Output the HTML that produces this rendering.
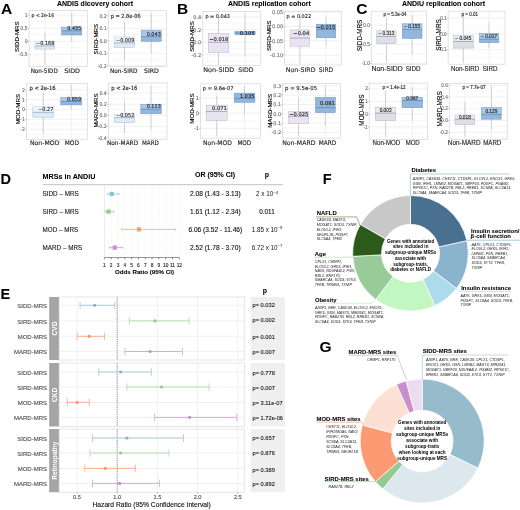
<!DOCTYPE html>
<html><head><meta charset="utf-8"><style>
html,body{margin:0;padding:0;background:#fff;}
svg{display:block;font-family:'Liberation Sans',Arial,sans-serif;}
</style></head><body>
<svg width="520" height="510" viewBox="0 0 520 510">
<rect width="520" height="510" fill="#fff"/>
<text x="1" y="13.6" font-size="15.5" font-weight="bold" stroke="#000" stroke-width="0.06">A</text>
<text x="177.06" y="13.6" font-size="15.5" font-weight="bold" stroke="#000" stroke-width="0.06">B</text>
<text x="356.3" y="13.7" font-size="15.5" font-weight="bold" stroke="#000" stroke-width="0.06">C</text>
<text x="0.43" y="184.1" font-size="14.5" font-weight="bold" stroke="#000" stroke-width="0.06">D</text>
<text x="0.43" y="299.1" font-size="14.5" font-weight="bold" stroke="#000" stroke-width="0.06">E</text>
<text x="322.7" y="183.8" font-size="14.5" font-weight="bold" stroke="#000" stroke-width="0.06">F</text>
<text x="319.6" y="352.3" font-size="15.5" font-weight="bold" stroke="#000" stroke-width="0.06">G</text>
<text x="95" y="5.9" font-size="7" font-weight="bold" text-anchor="middle" stroke="#000" stroke-width="0.06">ANDIS dicovery cohort</text>
<text x="269.4" y="5.9" font-size="7" font-weight="bold" text-anchor="middle" stroke="#000" stroke-width="0.06">ANDIS replication cohort</text>
<text x="443.5" y="5.9" font-size="7" font-weight="bold" text-anchor="middle" stroke="#000" stroke-width="0.06">ANDiU replication cohort</text>
<rect x="29.1" y="10.7" width="58.3" height="55.7" fill="#fff"/>
<line x1="29.1" y1="21.62" x2="87.4" y2="21.62" stroke="#f4f4f4" stroke-width="0.6"/>
<line x1="29.1" y1="34.68" x2="87.4" y2="34.68" stroke="#f4f4f4" stroke-width="0.6"/>
<line x1="29.1" y1="47.73" x2="87.4" y2="47.73" stroke="#f4f4f4" stroke-width="0.6"/>
<line x1="29.1" y1="60.78" x2="87.4" y2="60.78" stroke="#f4f4f4" stroke-width="0.6"/>
<line x1="29.1" y1="15.1" x2="87.4" y2="15.1" stroke="#ebebeb" stroke-width="0.7"/>
<line x1="29.1" y1="28.15" x2="87.4" y2="28.15" stroke="#ebebeb" stroke-width="0.7"/>
<line x1="29.1" y1="41.2" x2="87.4" y2="41.2" stroke="#ebebeb" stroke-width="0.7"/>
<line x1="29.1" y1="54.25" x2="87.4" y2="54.25" stroke="#ebebeb" stroke-width="0.7"/>
<line x1="44.9" y1="10.7" x2="44.9" y2="66.4" stroke="#ebebeb" stroke-width="0.7"/>
<line x1="71.7" y1="10.7" x2="71.7" y2="66.4" stroke="#ebebeb" stroke-width="0.7"/>
<line x1="27.5" y1="15.1" x2="29.1" y2="15.1" stroke="#999" stroke-width="0.5"/>
<text x="27.6" y="16.97" font-size="5.2" font-family="'DejaVu Sans Condensed', 'DejaVu Sans', sans-serif" text-anchor="end" fill="#6e6e6e" stroke="#6e6e6e" stroke-width="0.12">1</text>
<line x1="27.5" y1="28.15" x2="29.1" y2="28.15" stroke="#999" stroke-width="0.5"/>
<text x="27.6" y="30.02" font-size="5.2" font-family="'DejaVu Sans Condensed', 'DejaVu Sans', sans-serif" text-anchor="end" fill="#6e6e6e" stroke="#6e6e6e" stroke-width="0.12">0.5</text>
<line x1="27.5" y1="41.2" x2="29.1" y2="41.2" stroke="#999" stroke-width="0.5"/>
<text x="27.6" y="43.07" font-size="5.2" font-family="'DejaVu Sans Condensed', 'DejaVu Sans', sans-serif" text-anchor="end" fill="#6e6e6e" stroke="#6e6e6e" stroke-width="0.12">0</text>
<line x1="27.5" y1="54.25" x2="29.1" y2="54.25" stroke="#999" stroke-width="0.5"/>
<text x="27.6" y="56.12" font-size="5.2" font-family="'DejaVu Sans Condensed', 'DejaVu Sans', sans-serif" text-anchor="end" fill="#6e6e6e" stroke="#6e6e6e" stroke-width="0.12">-0.5</text>
<line x1="44.9" y1="33" x2="44.9" y2="64.6" stroke="#b4b4b4" stroke-width="0.55"/>
<rect x="35" y="41.3" width="19.8" height="7.8" fill="#deebf7" stroke="#a9bfd3" stroke-width="0.5"/>
<rect x="35.3" y="41.6" width="19.2" height="4.1" fill="#eef5fb"/>
<line x1="35" y1="46" x2="54.8" y2="46" stroke="#8aa2b8" stroke-width="0.7"/>
<text x="54.4" y="45" font-size="5.5" font-family="'DejaVu Sans Condensed', 'DejaVu Sans', sans-serif" text-anchor="end" fill="#222" stroke="#222" stroke-width="0.12">−0.168</text>
<line x1="71.7" y1="12.8" x2="71.7" y2="42" stroke="#b4b4b4" stroke-width="0.55"/>
<rect x="61.7" y="27.1" width="20.1" height="7.9" fill="#92b6dc" stroke="#6f95bf" stroke-width="0.5"/>
<rect x="62" y="27.4" width="19.5" height="3.1" fill="#a9c7e7"/>
<line x1="61.7" y1="30.8" x2="81.8" y2="30.8" stroke="#5f86b0" stroke-width="0.7"/>
<text x="81.4" y="29.8" font-size="5.5" font-family="'DejaVu Sans Condensed', 'DejaVu Sans', sans-serif" text-anchor="end" fill="#222" stroke="#222" stroke-width="0.12">0.435</text>
<rect x="29.1" y="10.7" width="58.3" height="55.7" fill="none" stroke="#cfcfcf" stroke-width="0.6"/>
<text x="31.6" y="16.5" font-size="5" font-family="'DejaVu Sans Condensed', 'DejaVu Sans', sans-serif" text-anchor="start" fill="#222" stroke="#222" stroke-width="0.12">p &lt; 2e-16</text>
<text x="44.2" y="72.8" font-size="6.2" font-family="'DejaVu Sans Condensed', 'DejaVu Sans', sans-serif" text-anchor="middle" fill="#222" stroke="#222" stroke-width="0.12" textLength="27.1" lengthAdjust="spacingAndGlyphs">Non-SIDD</text>
<text x="72.1" y="72.8" font-size="6.2" font-family="'DejaVu Sans Condensed', 'DejaVu Sans', sans-serif" text-anchor="middle" fill="#222" stroke="#222" stroke-width="0.12" textLength="15.7" lengthAdjust="spacingAndGlyphs">SIDD</text>
<text x="17" y="36.6" font-size="6.2" text-anchor="middle" stroke="#000" stroke-width="0.12" transform="rotate(-90 17 36.6)" dominant-baseline="central">SIDD-MRS</text>
<rect x="108.3" y="10.8" width="58.3" height="55.6" fill="#fff"/>
<line x1="108.3" y1="21.97" x2="166.6" y2="21.97" stroke="#f4f4f4" stroke-width="0.6"/>
<line x1="108.3" y1="34.52" x2="166.6" y2="34.52" stroke="#f4f4f4" stroke-width="0.6"/>
<line x1="108.3" y1="47.07" x2="166.6" y2="47.07" stroke="#f4f4f4" stroke-width="0.6"/>
<line x1="108.3" y1="59.62" x2="166.6" y2="59.62" stroke="#f4f4f4" stroke-width="0.6"/>
<line x1="108.3" y1="15.7" x2="166.6" y2="15.7" stroke="#ebebeb" stroke-width="0.7"/>
<line x1="108.3" y1="28.25" x2="166.6" y2="28.25" stroke="#ebebeb" stroke-width="0.7"/>
<line x1="108.3" y1="40.8" x2="166.6" y2="40.8" stroke="#ebebeb" stroke-width="0.7"/>
<line x1="108.3" y1="53.35" x2="166.6" y2="53.35" stroke="#ebebeb" stroke-width="0.7"/>
<line x1="108.3" y1="65.9" x2="166.6" y2="65.9" stroke="#ebebeb" stroke-width="0.7"/>
<line x1="124.5" y1="10.8" x2="124.5" y2="66.4" stroke="#ebebeb" stroke-width="0.7"/>
<line x1="151.2" y1="10.8" x2="151.2" y2="66.4" stroke="#ebebeb" stroke-width="0.7"/>
<line x1="106.7" y1="15.7" x2="108.3" y2="15.7" stroke="#999" stroke-width="0.5"/>
<text x="106.8" y="17.57" font-size="5.2" font-family="'DejaVu Sans Condensed', 'DejaVu Sans', sans-serif" text-anchor="end" fill="#6e6e6e" stroke="#6e6e6e" stroke-width="0.12">0.2</text>
<line x1="106.7" y1="28.25" x2="108.3" y2="28.25" stroke="#999" stroke-width="0.5"/>
<text x="106.8" y="30.12" font-size="5.2" font-family="'DejaVu Sans Condensed', 'DejaVu Sans', sans-serif" text-anchor="end" fill="#6e6e6e" stroke="#6e6e6e" stroke-width="0.12">0.1</text>
<line x1="106.7" y1="40.8" x2="108.3" y2="40.8" stroke="#999" stroke-width="0.5"/>
<text x="106.8" y="42.67" font-size="5.2" font-family="'DejaVu Sans Condensed', 'DejaVu Sans', sans-serif" text-anchor="end" fill="#6e6e6e" stroke="#6e6e6e" stroke-width="0.12">0.0</text>
<line x1="106.7" y1="53.35" x2="108.3" y2="53.35" stroke="#999" stroke-width="0.5"/>
<text x="106.8" y="55.22" font-size="5.2" font-family="'DejaVu Sans Condensed', 'DejaVu Sans', sans-serif" text-anchor="end" fill="#6e6e6e" stroke="#6e6e6e" stroke-width="0.12">-0.1</text>
<line x1="106.7" y1="65.9" x2="108.3" y2="65.9" stroke="#999" stroke-width="0.5"/>
<text x="106.8" y="67.77" font-size="5.2" font-family="'DejaVu Sans Condensed', 'DejaVu Sans', sans-serif" text-anchor="end" fill="#6e6e6e" stroke="#6e6e6e" stroke-width="0.12">-0.2</text>
<line x1="124.5" y1="22" x2="124.5" y2="60.8" stroke="#b4b4b4" stroke-width="0.55"/>
<rect x="114.2" y="37" width="20.5" height="10.4" fill="#deebf7" stroke="#a9bfd3" stroke-width="0.5"/>
<rect x="114.5" y="37.3" width="19.9" height="5.3" fill="#eef5fb"/>
<line x1="114.2" y1="42.9" x2="134.7" y2="42.9" stroke="#8aa2b8" stroke-width="0.7"/>
<text x="134.3" y="41.9" font-size="5.5" font-family="'DejaVu Sans Condensed', 'DejaVu Sans', sans-serif" text-anchor="end" fill="#222" stroke="#222" stroke-width="0.12">−0.009</text>
<line x1="151.2" y1="13" x2="151.2" y2="53.5" stroke="#b4b4b4" stroke-width="0.55"/>
<rect x="141.2" y="30.1" width="20" height="11.3" fill="#92b6dc" stroke="#6f95bf" stroke-width="0.5"/>
<rect x="141.5" y="30.4" width="19.4" height="5.9" fill="#a9c7e7"/>
<line x1="141.2" y1="36.6" x2="161.2" y2="36.6" stroke="#5f86b0" stroke-width="0.7"/>
<text x="160.8" y="35.6" font-size="5.5" font-family="'DejaVu Sans Condensed', 'DejaVu Sans', sans-serif" text-anchor="end" fill="#222" stroke="#222" stroke-width="0.12">0.043</text>
<rect x="108.3" y="10.8" width="58.3" height="55.6" fill="none" stroke="#cfcfcf" stroke-width="0.6"/>
<text x="110.7" y="17.7" font-size="5.6" font-family="'DejaVu Sans Condensed', 'DejaVu Sans', sans-serif" text-anchor="start" fill="#222" stroke="#222" stroke-width="0.12">p = 2.8e-06</text>
<text x="123.7" y="72.8" font-size="6.2" font-family="'DejaVu Sans Condensed', 'DejaVu Sans', sans-serif" text-anchor="middle" fill="#222" stroke="#222" stroke-width="0.12" textLength="27.5" lengthAdjust="spacingAndGlyphs">Non-SIRD</text>
<text x="151.45" y="72.8" font-size="6.2" font-family="'DejaVu Sans Condensed', 'DejaVu Sans', sans-serif" text-anchor="middle" fill="#222" stroke="#222" stroke-width="0.12" textLength="15" lengthAdjust="spacingAndGlyphs">SIRD</text>
<text x="95.7" y="39.1" font-size="6.2" text-anchor="middle" stroke="#000" stroke-width="0.12" transform="rotate(-90 95.7 39.1)" dominant-baseline="central">SIRD-MRS</text>
<rect x="26.5" y="83.4" width="60.9" height="56" fill="#fff"/>
<line x1="26.5" y1="94.75" x2="87.4" y2="94.75" stroke="#f4f4f4" stroke-width="0.6"/>
<line x1="26.5" y1="104.65" x2="87.4" y2="104.65" stroke="#f4f4f4" stroke-width="0.6"/>
<line x1="26.5" y1="114.55" x2="87.4" y2="114.55" stroke="#f4f4f4" stroke-width="0.6"/>
<line x1="26.5" y1="124.45" x2="87.4" y2="124.45" stroke="#f4f4f4" stroke-width="0.6"/>
<line x1="26.5" y1="134.35" x2="87.4" y2="134.35" stroke="#f4f4f4" stroke-width="0.6"/>
<line x1="26.5" y1="89.8" x2="87.4" y2="89.8" stroke="#ebebeb" stroke-width="0.7"/>
<line x1="26.5" y1="99.7" x2="87.4" y2="99.7" stroke="#ebebeb" stroke-width="0.7"/>
<line x1="26.5" y1="109.6" x2="87.4" y2="109.6" stroke="#ebebeb" stroke-width="0.7"/>
<line x1="26.5" y1="119.5" x2="87.4" y2="119.5" stroke="#ebebeb" stroke-width="0.7"/>
<line x1="26.5" y1="129.4" x2="87.4" y2="129.4" stroke="#ebebeb" stroke-width="0.7"/>
<line x1="43.3" y1="83.4" x2="43.3" y2="139.4" stroke="#ebebeb" stroke-width="0.7"/>
<line x1="71.2" y1="83.4" x2="71.2" y2="139.4" stroke="#ebebeb" stroke-width="0.7"/>
<line x1="24.9" y1="89.8" x2="26.5" y2="89.8" stroke="#999" stroke-width="0.5"/>
<text x="25" y="91.67" font-size="5.2" font-family="'DejaVu Sans Condensed', 'DejaVu Sans', sans-serif" text-anchor="end" fill="#6e6e6e" stroke="#6e6e6e" stroke-width="0.12">2</text>
<line x1="24.9" y1="99.7" x2="26.5" y2="99.7" stroke="#999" stroke-width="0.5"/>
<text x="25" y="101.57" font-size="5.2" font-family="'DejaVu Sans Condensed', 'DejaVu Sans', sans-serif" text-anchor="end" fill="#6e6e6e" stroke="#6e6e6e" stroke-width="0.12">1</text>
<line x1="24.9" y1="109.6" x2="26.5" y2="109.6" stroke="#999" stroke-width="0.5"/>
<text x="25" y="111.47" font-size="5.2" font-family="'DejaVu Sans Condensed', 'DejaVu Sans', sans-serif" text-anchor="end" fill="#6e6e6e" stroke="#6e6e6e" stroke-width="0.12">0</text>
<line x1="24.9" y1="119.5" x2="26.5" y2="119.5" stroke="#999" stroke-width="0.5"/>
<text x="25" y="121.37" font-size="5.2" font-family="'DejaVu Sans Condensed', 'DejaVu Sans', sans-serif" text-anchor="end" fill="#6e6e6e" stroke="#6e6e6e" stroke-width="0.12">-1</text>
<line x1="24.9" y1="129.4" x2="26.5" y2="129.4" stroke="#999" stroke-width="0.5"/>
<text x="25" y="131.27" font-size="5.2" font-family="'DejaVu Sans Condensed', 'DejaVu Sans', sans-serif" text-anchor="end" fill="#6e6e6e" stroke="#6e6e6e" stroke-width="0.12">-2</text>
<line x1="43.3" y1="93.5" x2="43.3" y2="133.8" stroke="#b4b4b4" stroke-width="0.55"/>
<rect x="32.8" y="106.9" width="21" height="10.5" fill="#deebf7" stroke="#a9bfd3" stroke-width="0.5"/>
<rect x="33.1" y="107.2" width="20.4" height="4.8" fill="#eef5fb"/>
<line x1="32.8" y1="112.3" x2="53.8" y2="112.3" stroke="#8aa2b8" stroke-width="0.7"/>
<text x="53.4" y="111.3" font-size="5.5" font-family="'DejaVu Sans Condensed', 'DejaVu Sans', sans-serif" text-anchor="end" fill="#222" stroke="#222" stroke-width="0.12">−0.27</text>
<line x1="71.2" y1="84.6" x2="71.2" y2="109.2" stroke="#b4b4b4" stroke-width="0.55"/>
<rect x="60.8" y="97.7" width="20.7" height="7.2" fill="#92b6dc" stroke="#6f95bf" stroke-width="0.5"/>
<rect x="61.1" y="98" width="20.1" height="3.2" fill="#a9c7e7"/>
<line x1="60.8" y1="101.5" x2="81.5" y2="101.5" stroke="#5f86b0" stroke-width="0.7"/>
<text x="81.1" y="100.5" font-size="5.5" font-family="'DejaVu Sans Condensed', 'DejaVu Sans', sans-serif" text-anchor="end" fill="#222" stroke="#222" stroke-width="0.12">0.859</text>
<rect x="26.5" y="83.4" width="60.9" height="56" fill="none" stroke="#cfcfcf" stroke-width="0.6"/>
<text x="29.4" y="89.7" font-size="5.85" font-family="'DejaVu Sans Condensed', 'DejaVu Sans', sans-serif" text-anchor="start" fill="#222" stroke="#222" stroke-width="0.12">p &lt; 2e-16</text>
<text x="44.7" y="145.3" font-size="6.2" font-family="'DejaVu Sans Condensed', 'DejaVu Sans', sans-serif" text-anchor="middle" fill="#222" stroke="#222" stroke-width="0.12" textLength="29.5" lengthAdjust="spacingAndGlyphs">Non-MOD</text>
<text x="71.8" y="145.3" font-size="6.2" font-family="'DejaVu Sans Condensed', 'DejaVu Sans', sans-serif" text-anchor="middle" fill="#222" stroke="#222" stroke-width="0.12" textLength="14.3" lengthAdjust="spacingAndGlyphs">MOD</text>
<text x="18" y="109.1" font-size="6.2" text-anchor="middle" stroke="#000" stroke-width="0.12" transform="rotate(-90 18 109.1)" dominant-baseline="central">MOD-MRS</text>
<rect x="108.3" y="83" width="58.7" height="56.4" fill="#fff"/>
<line x1="108.3" y1="98.68" x2="167" y2="98.68" stroke="#f4f4f4" stroke-width="0.6"/>
<line x1="108.3" y1="109.83" x2="167" y2="109.83" stroke="#f4f4f4" stroke-width="0.6"/>
<line x1="108.3" y1="120.98" x2="167" y2="120.98" stroke="#f4f4f4" stroke-width="0.6"/>
<line x1="108.3" y1="132.12" x2="167" y2="132.12" stroke="#f4f4f4" stroke-width="0.6"/>
<line x1="108.3" y1="87.53" x2="167" y2="87.53" stroke="#f4f4f4" stroke-width="0.6"/>
<line x1="108.3" y1="93.1" x2="167" y2="93.1" stroke="#ebebeb" stroke-width="0.7"/>
<line x1="108.3" y1="104.25" x2="167" y2="104.25" stroke="#ebebeb" stroke-width="0.7"/>
<line x1="108.3" y1="115.4" x2="167" y2="115.4" stroke="#ebebeb" stroke-width="0.7"/>
<line x1="108.3" y1="126.55" x2="167" y2="126.55" stroke="#ebebeb" stroke-width="0.7"/>
<line x1="108.3" y1="137.7" x2="167" y2="137.7" stroke="#ebebeb" stroke-width="0.7"/>
<line x1="124.5" y1="83" x2="124.5" y2="139.4" stroke="#ebebeb" stroke-width="0.7"/>
<line x1="151" y1="83" x2="151" y2="139.4" stroke="#ebebeb" stroke-width="0.7"/>
<line x1="106.7" y1="93.1" x2="108.3" y2="93.1" stroke="#999" stroke-width="0.5"/>
<text x="106.8" y="94.97" font-size="5.2" font-family="'DejaVu Sans Condensed', 'DejaVu Sans', sans-serif" text-anchor="end" fill="#6e6e6e" stroke="#6e6e6e" stroke-width="0.12">0.4</text>
<line x1="106.7" y1="104.25" x2="108.3" y2="104.25" stroke="#999" stroke-width="0.5"/>
<text x="106.8" y="106.12" font-size="5.2" font-family="'DejaVu Sans Condensed', 'DejaVu Sans', sans-serif" text-anchor="end" fill="#6e6e6e" stroke="#6e6e6e" stroke-width="0.12">0.2</text>
<line x1="106.7" y1="115.4" x2="108.3" y2="115.4" stroke="#999" stroke-width="0.5"/>
<text x="106.8" y="117.27" font-size="5.2" font-family="'DejaVu Sans Condensed', 'DejaVu Sans', sans-serif" text-anchor="end" fill="#6e6e6e" stroke="#6e6e6e" stroke-width="0.12">0.0</text>
<line x1="106.7" y1="126.55" x2="108.3" y2="126.55" stroke="#999" stroke-width="0.5"/>
<text x="106.8" y="128.42" font-size="5.2" font-family="'DejaVu Sans Condensed', 'DejaVu Sans', sans-serif" text-anchor="end" fill="#6e6e6e" stroke="#6e6e6e" stroke-width="0.12">-0.2</text>
<line x1="106.7" y1="137.7" x2="108.3" y2="137.7" stroke="#999" stroke-width="0.5"/>
<text x="106.8" y="139.57" font-size="5.2" font-family="'DejaVu Sans Condensed', 'DejaVu Sans', sans-serif" text-anchor="end" fill="#6e6e6e" stroke="#6e6e6e" stroke-width="0.12">-0.4</text>
<line x1="124.5" y1="101.5" x2="124.5" y2="133.1" stroke="#b4b4b4" stroke-width="0.55"/>
<rect x="114.2" y="114.2" width="20.5" height="8.4" fill="#deebf7" stroke="#a9bfd3" stroke-width="0.5"/>
<rect x="114.5" y="114.5" width="19.9" height="2.9" fill="#eef5fb"/>
<line x1="114.2" y1="117.7" x2="134.7" y2="117.7" stroke="#8aa2b8" stroke-width="0.7"/>
<text x="134.3" y="116.7" font-size="5.5" font-family="'DejaVu Sans Condensed', 'DejaVu Sans', sans-serif" text-anchor="end" fill="#222" stroke="#222" stroke-width="0.12">−0.052</text>
<line x1="151" y1="85.4" x2="151" y2="130" stroke="#b4b4b4" stroke-width="0.55"/>
<rect x="140.8" y="104.6" width="20.4" height="9.2" fill="#92b6dc" stroke="#6f95bf" stroke-width="0.5"/>
<rect x="141.1" y="104.9" width="19.8" height="4" fill="#a9c7e7"/>
<line x1="140.8" y1="109.2" x2="161.2" y2="109.2" stroke="#5f86b0" stroke-width="0.7"/>
<text x="160.8" y="108.2" font-size="5.5" font-family="'DejaVu Sans Condensed', 'DejaVu Sans', sans-serif" text-anchor="end" fill="#222" stroke="#222" stroke-width="0.12">0.113</text>
<rect x="108.3" y="83" width="58.7" height="56.4" fill="none" stroke="#cfcfcf" stroke-width="0.6"/>
<text x="111.2" y="89.7" font-size="5.85" font-family="'DejaVu Sans Condensed', 'DejaVu Sans', sans-serif" text-anchor="start" fill="#222" stroke="#222" stroke-width="0.12">p &lt; 2e-16</text>
<text x="122.55" y="145.3" font-size="6.2" font-family="'DejaVu Sans Condensed', 'DejaVu Sans', sans-serif" text-anchor="middle" fill="#222" stroke="#222" stroke-width="0.12" textLength="31.2" lengthAdjust="spacingAndGlyphs">Non-MARD</text>
<text x="150.45" y="145.3" font-size="6.2" font-family="'DejaVu Sans Condensed', 'DejaVu Sans', sans-serif" text-anchor="middle" fill="#222" stroke="#222" stroke-width="0.12" textLength="17" lengthAdjust="spacingAndGlyphs">MARD</text>
<text x="95.6" y="110.5" font-size="6.2" text-anchor="middle" stroke="#000" stroke-width="0.12" transform="rotate(-90 95.6 110.5)" dominant-baseline="central">MARD-MRS</text>
<rect x="202.8" y="11.5" width="58" height="53.9" fill="#fff"/>
<line x1="202.8" y1="23.4" x2="260.8" y2="23.4" stroke="#f4f4f4" stroke-width="0.6"/>
<line x1="202.8" y1="36" x2="260.8" y2="36" stroke="#f4f4f4" stroke-width="0.6"/>
<line x1="202.8" y1="48.6" x2="260.8" y2="48.6" stroke="#f4f4f4" stroke-width="0.6"/>
<line x1="202.8" y1="61.2" x2="260.8" y2="61.2" stroke="#f4f4f4" stroke-width="0.6"/>
<line x1="202.8" y1="17.1" x2="260.8" y2="17.1" stroke="#ebebeb" stroke-width="0.7"/>
<line x1="202.8" y1="29.7" x2="260.8" y2="29.7" stroke="#ebebeb" stroke-width="0.7"/>
<line x1="202.8" y1="42.3" x2="260.8" y2="42.3" stroke="#ebebeb" stroke-width="0.7"/>
<line x1="202.8" y1="54.9" x2="260.8" y2="54.9" stroke="#ebebeb" stroke-width="0.7"/>
<line x1="218.5" y1="11.5" x2="218.5" y2="65.4" stroke="#ebebeb" stroke-width="0.7"/>
<line x1="245" y1="11.5" x2="245" y2="65.4" stroke="#ebebeb" stroke-width="0.7"/>
<line x1="201.2" y1="17.1" x2="202.8" y2="17.1" stroke="#999" stroke-width="0.5"/>
<text x="201.3" y="18.9" font-size="5" font-family="'DejaVu Sans', Verdana, sans-serif" text-anchor="end" fill="#6e6e6e" stroke="#6e6e6e" stroke-width="0.12">0.4</text>
<line x1="201.2" y1="29.7" x2="202.8" y2="29.7" stroke="#999" stroke-width="0.5"/>
<text x="201.3" y="31.5" font-size="5" font-family="'DejaVu Sans', Verdana, sans-serif" text-anchor="end" fill="#6e6e6e" stroke="#6e6e6e" stroke-width="0.12">0.2</text>
<line x1="201.2" y1="42.3" x2="202.8" y2="42.3" stroke="#999" stroke-width="0.5"/>
<text x="201.3" y="44.1" font-size="5" font-family="'DejaVu Sans', Verdana, sans-serif" text-anchor="end" fill="#6e6e6e" stroke="#6e6e6e" stroke-width="0.12">0.0</text>
<line x1="201.2" y1="54.9" x2="202.8" y2="54.9" stroke="#999" stroke-width="0.5"/>
<text x="201.3" y="56.7" font-size="5" font-family="'DejaVu Sans', Verdana, sans-serif" text-anchor="end" fill="#6e6e6e" stroke="#6e6e6e" stroke-width="0.12">-0.2</text>
<line x1="218.5" y1="17.7" x2="218.5" y2="65.4" stroke="#b4b4b4" stroke-width="0.55"/>
<rect x="208.3" y="33.5" width="20.5" height="19" fill="#e9e4f2" stroke="#bab5c6" stroke-width="0.5"/>
<line x1="208.3" y1="42.3" x2="228.8" y2="42.3" stroke="#9a94a8" stroke-width="0.7"/>
<text x="228.4" y="41.3" font-size="5.2" font-family="'DejaVu Sans', Verdana, sans-serif" text-anchor="end" fill="#222" stroke="#222" stroke-width="0.12">−0.018</text>
<line x1="245" y1="13" x2="245" y2="56" stroke="#b4b4b4" stroke-width="0.55"/>
<rect x="234.9" y="31.5" width="20.2" height="3.1" fill="#92b6dc" stroke="#6f95bf" stroke-width="0.5"/>
<line x1="234.9" y1="33" x2="255.1" y2="33" stroke="#5f86b0" stroke-width="0.7"/>
<text x="254.7" y="34.6" font-size="5.2" font-family="'DejaVu Sans', Verdana, sans-serif" text-anchor="end" fill="#222" stroke="#222" stroke-width="0.12">0.105</text>
<rect x="202.8" y="11.5" width="58" height="53.9" fill="none" stroke="#cfcfcf" stroke-width="0.6"/>
<text x="205.4" y="18" font-size="4.95" font-family="'DejaVu Sans', Verdana, sans-serif" text-anchor="start" fill="#222" stroke="#222" stroke-width="0.12">p = 0.043</text>
<text x="218.8" y="72" font-size="6.3" font-family="'DejaVu Sans', Verdana, sans-serif" text-anchor="middle" fill="#222" stroke="#222" stroke-width="0.12" textLength="31.1" lengthAdjust="spacingAndGlyphs">Non-SIDD</text>
<text x="245.9" y="72" font-size="6.3" font-family="'DejaVu Sans', Verdana, sans-serif" text-anchor="middle" fill="#222" stroke="#222" stroke-width="0.12" textLength="15.3" lengthAdjust="spacingAndGlyphs">SIDD</text>
<text x="191.1" y="36.5" font-size="6.2" text-anchor="middle" stroke="#000" stroke-width="0.12" transform="rotate(-90 191.1 36.5)" dominant-baseline="central">SIDD-MRS</text>
<rect x="284.7" y="11.2" width="56.5" height="53.8" fill="#fff"/>
<line x1="284.7" y1="19.3" x2="341.2" y2="19.3" stroke="#f4f4f4" stroke-width="0.6"/>
<line x1="284.7" y1="33.7" x2="341.2" y2="33.7" stroke="#f4f4f4" stroke-width="0.6"/>
<line x1="284.7" y1="48.1" x2="341.2" y2="48.1" stroke="#f4f4f4" stroke-width="0.6"/>
<line x1="284.7" y1="62.5" x2="341.2" y2="62.5" stroke="#f4f4f4" stroke-width="0.6"/>
<line x1="284.7" y1="12.1" x2="341.2" y2="12.1" stroke="#ebebeb" stroke-width="0.7"/>
<line x1="284.7" y1="26.5" x2="341.2" y2="26.5" stroke="#ebebeb" stroke-width="0.7"/>
<line x1="284.7" y1="40.9" x2="341.2" y2="40.9" stroke="#ebebeb" stroke-width="0.7"/>
<line x1="284.7" y1="55.3" x2="341.2" y2="55.3" stroke="#ebebeb" stroke-width="0.7"/>
<line x1="299.8" y1="11.2" x2="299.8" y2="65" stroke="#ebebeb" stroke-width="0.7"/>
<line x1="326" y1="11.2" x2="326" y2="65" stroke="#ebebeb" stroke-width="0.7"/>
<line x1="283.1" y1="12.1" x2="284.7" y2="12.1" stroke="#999" stroke-width="0.5"/>
<text x="283.2" y="13.9" font-size="5" font-family="'DejaVu Sans', Verdana, sans-serif" text-anchor="end" fill="#6e6e6e" stroke="#6e6e6e" stroke-width="0.12">0.05</text>
<line x1="283.1" y1="26.5" x2="284.7" y2="26.5" stroke="#999" stroke-width="0.5"/>
<text x="283.2" y="28.3" font-size="5" font-family="'DejaVu Sans', Verdana, sans-serif" text-anchor="end" fill="#6e6e6e" stroke="#6e6e6e" stroke-width="0.12">0.00</text>
<line x1="283.1" y1="40.9" x2="284.7" y2="40.9" stroke="#999" stroke-width="0.5"/>
<text x="283.2" y="42.7" font-size="5" font-family="'DejaVu Sans', Verdana, sans-serif" text-anchor="end" fill="#6e6e6e" stroke="#6e6e6e" stroke-width="0.12">-0.05</text>
<line x1="283.1" y1="55.3" x2="284.7" y2="55.3" stroke="#999" stroke-width="0.5"/>
<text x="283.2" y="57.1" font-size="5" font-family="'DejaVu Sans', Verdana, sans-serif" text-anchor="end" fill="#6e6e6e" stroke="#6e6e6e" stroke-width="0.12">-0.10</text>
<line x1="299.8" y1="15.8" x2="299.8" y2="63.5" stroke="#b4b4b4" stroke-width="0.55"/>
<rect x="290.1" y="29.9" width="19.5" height="16.3" fill="#e9e4f2" stroke="#bab5c6" stroke-width="0.5"/>
<line x1="290.1" y1="38.1" x2="309.6" y2="38.1" stroke="#9a94a8" stroke-width="0.7"/>
<text x="309.2" y="35.4" font-size="5.2" font-family="'DejaVu Sans', Verdana, sans-serif" text-anchor="end" fill="#222" stroke="#222" stroke-width="0.12">−0.04</text>
<line x1="326" y1="16.5" x2="326" y2="45.8" stroke="#b4b4b4" stroke-width="0.55"/>
<rect x="316.2" y="24.2" width="19.6" height="13.6" fill="#92b6dc" stroke="#6f95bf" stroke-width="0.5"/>
<line x1="316.2" y1="29.6" x2="335.8" y2="29.6" stroke="#5f86b0" stroke-width="0.7"/>
<text x="335.4" y="28.9" font-size="5.2" font-family="'DejaVu Sans', Verdana, sans-serif" text-anchor="end" fill="#222" stroke="#222" stroke-width="0.12">−0.015</text>
<rect x="284.7" y="11.2" width="56.5" height="53.8" fill="none" stroke="#cfcfcf" stroke-width="0.6"/>
<text x="286.5" y="17.6" font-size="4.95" font-family="'DejaVu Sans', Verdana, sans-serif" text-anchor="start" fill="#222" stroke="#222" stroke-width="0.12">p = 0.022</text>
<text x="300.65" y="72.4" font-size="6.3" font-family="'DejaVu Sans', Verdana, sans-serif" text-anchor="middle" fill="#222" stroke="#222" stroke-width="0.12" textLength="29.8" lengthAdjust="spacingAndGlyphs">Non-SIRD</text>
<text x="326" y="72.4" font-size="6.3" font-family="'DejaVu Sans', Verdana, sans-serif" text-anchor="middle" fill="#222" stroke="#222" stroke-width="0.12" textLength="14.5" lengthAdjust="spacingAndGlyphs">SIRD</text>
<text x="268.1" y="35.8" font-size="6.2" text-anchor="middle" stroke="#000" stroke-width="0.12" transform="rotate(-90 268.1 35.8)" dominant-baseline="central">SIRD-MRS</text>
<rect x="200.5" y="83.8" width="60" height="54.4" fill="#fff"/>
<line x1="200.5" y1="90.3" x2="260.5" y2="90.3" stroke="#f4f4f4" stroke-width="0.6"/>
<line x1="200.5" y1="105.5" x2="260.5" y2="105.5" stroke="#f4f4f4" stroke-width="0.6"/>
<line x1="200.5" y1="120.7" x2="260.5" y2="120.7" stroke="#f4f4f4" stroke-width="0.6"/>
<line x1="200.5" y1="135.9" x2="260.5" y2="135.9" stroke="#f4f4f4" stroke-width="0.6"/>
<line x1="200.5" y1="97.9" x2="260.5" y2="97.9" stroke="#ebebeb" stroke-width="0.7"/>
<line x1="200.5" y1="113.1" x2="260.5" y2="113.1" stroke="#ebebeb" stroke-width="0.7"/>
<line x1="200.5" y1="128.3" x2="260.5" y2="128.3" stroke="#ebebeb" stroke-width="0.7"/>
<line x1="216.7" y1="83.8" x2="216.7" y2="138.2" stroke="#ebebeb" stroke-width="0.7"/>
<line x1="244.5" y1="83.8" x2="244.5" y2="138.2" stroke="#ebebeb" stroke-width="0.7"/>
<line x1="198.9" y1="97.9" x2="200.5" y2="97.9" stroke="#999" stroke-width="0.5"/>
<text x="199" y="99.7" font-size="5" font-family="'DejaVu Sans', Verdana, sans-serif" text-anchor="end" fill="#6e6e6e" stroke="#6e6e6e" stroke-width="0.12">1</text>
<line x1="198.9" y1="113.1" x2="200.5" y2="113.1" stroke="#999" stroke-width="0.5"/>
<text x="199" y="114.9" font-size="5" font-family="'DejaVu Sans', Verdana, sans-serif" text-anchor="end" fill="#6e6e6e" stroke="#6e6e6e" stroke-width="0.12">0</text>
<line x1="198.9" y1="128.3" x2="200.5" y2="128.3" stroke="#999" stroke-width="0.5"/>
<text x="199" y="130.1" font-size="5" font-family="'DejaVu Sans', Verdana, sans-serif" text-anchor="end" fill="#6e6e6e" stroke="#6e6e6e" stroke-width="0.12">-1</text>
<line x1="216.7" y1="96.2" x2="216.7" y2="135.7" stroke="#b4b4b4" stroke-width="0.55"/>
<rect x="206.2" y="105.1" width="21" height="15.4" fill="#e9e4f2" stroke="#bab5c6" stroke-width="0.5"/>
<line x1="206.2" y1="111.5" x2="227.2" y2="111.5" stroke="#9a94a8" stroke-width="0.7"/>
<text x="226.8" y="110.1" font-size="5.2" font-family="'DejaVu Sans', Verdana, sans-serif" text-anchor="end" fill="#222" stroke="#222" stroke-width="0.12">0.071</text>
<line x1="244.5" y1="86.2" x2="244.5" y2="115.4" stroke="#b4b4b4" stroke-width="0.55"/>
<rect x="234.2" y="93.1" width="20.7" height="9.2" fill="#92b6dc" stroke="#6f95bf" stroke-width="0.5"/>
<line x1="234.2" y1="98.5" x2="254.9" y2="98.5" stroke="#5f86b0" stroke-width="0.7"/>
<text x="254.5" y="98.1" font-size="5.2" font-family="'DejaVu Sans', Verdana, sans-serif" text-anchor="end" fill="#222" stroke="#222" stroke-width="0.12">1.035</text>
<rect x="200.5" y="83.8" width="60" height="54.4" fill="none" stroke="#cfcfcf" stroke-width="0.6"/>
<text x="202.8" y="90.3" font-size="5.2" font-family="'DejaVu Sans', Verdana, sans-serif" text-anchor="start" fill="#222" stroke="#222" stroke-width="0.12">p = 9.6e-07</text>
<text x="217.55" y="145.4" font-size="6.3" font-family="'DejaVu Sans', Verdana, sans-serif" text-anchor="middle" fill="#222" stroke="#222" stroke-width="0.12" textLength="29" lengthAdjust="spacingAndGlyphs">Non-MOD</text>
<text x="244.35" y="145.4" font-size="6.3" font-family="'DejaVu Sans', Verdana, sans-serif" text-anchor="middle" fill="#222" stroke="#222" stroke-width="0.12" textLength="13.8" lengthAdjust="spacingAndGlyphs">MOD</text>
<text x="191.9" y="108.5" font-size="6.2" text-anchor="middle" stroke="#000" stroke-width="0.12" transform="rotate(-90 191.9 108.5)" dominant-baseline="central">MOD-MRS</text>
<rect x="282.7" y="83.4" width="57.7" height="54.8" fill="#fff"/>
<line x1="282.7" y1="90.55" x2="340.4" y2="90.55" stroke="#f4f4f4" stroke-width="0.6"/>
<line x1="282.7" y1="99.85" x2="340.4" y2="99.85" stroke="#f4f4f4" stroke-width="0.6"/>
<line x1="282.7" y1="109.15" x2="340.4" y2="109.15" stroke="#f4f4f4" stroke-width="0.6"/>
<line x1="282.7" y1="118.45" x2="340.4" y2="118.45" stroke="#f4f4f4" stroke-width="0.6"/>
<line x1="282.7" y1="127.75" x2="340.4" y2="127.75" stroke="#f4f4f4" stroke-width="0.6"/>
<line x1="282.7" y1="137.05" x2="340.4" y2="137.05" stroke="#f4f4f4" stroke-width="0.6"/>
<line x1="282.7" y1="85.9" x2="340.4" y2="85.9" stroke="#ebebeb" stroke-width="0.7"/>
<line x1="282.7" y1="95.2" x2="340.4" y2="95.2" stroke="#ebebeb" stroke-width="0.7"/>
<line x1="282.7" y1="104.5" x2="340.4" y2="104.5" stroke="#ebebeb" stroke-width="0.7"/>
<line x1="282.7" y1="113.8" x2="340.4" y2="113.8" stroke="#ebebeb" stroke-width="0.7"/>
<line x1="282.7" y1="123.1" x2="340.4" y2="123.1" stroke="#ebebeb" stroke-width="0.7"/>
<line x1="282.7" y1="132.4" x2="340.4" y2="132.4" stroke="#ebebeb" stroke-width="0.7"/>
<line x1="298.6" y1="83.4" x2="298.6" y2="138.2" stroke="#ebebeb" stroke-width="0.7"/>
<line x1="325.4" y1="83.4" x2="325.4" y2="138.2" stroke="#ebebeb" stroke-width="0.7"/>
<line x1="281.1" y1="85.9" x2="282.7" y2="85.9" stroke="#999" stroke-width="0.5"/>
<text x="281.2" y="87.7" font-size="5" font-family="'DejaVu Sans', Verdana, sans-serif" text-anchor="end" fill="#6e6e6e" stroke="#6e6e6e" stroke-width="0.12">0.3</text>
<line x1="281.1" y1="95.2" x2="282.7" y2="95.2" stroke="#999" stroke-width="0.5"/>
<text x="281.2" y="97" font-size="5" font-family="'DejaVu Sans', Verdana, sans-serif" text-anchor="end" fill="#6e6e6e" stroke="#6e6e6e" stroke-width="0.12">0.2</text>
<line x1="281.1" y1="104.5" x2="282.7" y2="104.5" stroke="#999" stroke-width="0.5"/>
<text x="281.2" y="106.3" font-size="5" font-family="'DejaVu Sans', Verdana, sans-serif" text-anchor="end" fill="#6e6e6e" stroke="#6e6e6e" stroke-width="0.12">0.1</text>
<line x1="281.1" y1="113.8" x2="282.7" y2="113.8" stroke="#999" stroke-width="0.5"/>
<text x="281.2" y="115.6" font-size="5" font-family="'DejaVu Sans', Verdana, sans-serif" text-anchor="end" fill="#6e6e6e" stroke="#6e6e6e" stroke-width="0.12">0.0</text>
<line x1="281.1" y1="123.1" x2="282.7" y2="123.1" stroke="#999" stroke-width="0.5"/>
<text x="281.2" y="124.9" font-size="5" font-family="'DejaVu Sans', Verdana, sans-serif" text-anchor="end" fill="#6e6e6e" stroke="#6e6e6e" stroke-width="0.12">-0.1</text>
<line x1="281.1" y1="132.4" x2="282.7" y2="132.4" stroke="#999" stroke-width="0.5"/>
<text x="281.2" y="134.2" font-size="5" font-family="'DejaVu Sans', Verdana, sans-serif" text-anchor="end" fill="#6e6e6e" stroke="#6e6e6e" stroke-width="0.12">-0.2</text>
<line x1="298.6" y1="97.7" x2="298.6" y2="136.2" stroke="#b4b4b4" stroke-width="0.55"/>
<rect x="288.4" y="111.5" width="20.4" height="12" fill="#e9e4f2" stroke="#bab5c6" stroke-width="0.5"/>
<line x1="288.4" y1="116.5" x2="308.8" y2="116.5" stroke="#9a94a8" stroke-width="0.7"/>
<text x="308.4" y="116.1" font-size="5.2" font-family="'DejaVu Sans', Verdana, sans-serif" text-anchor="end" fill="#222" stroke="#222" stroke-width="0.12">−0.025</text>
<line x1="325.4" y1="86.2" x2="325.4" y2="126.2" stroke="#b4b4b4" stroke-width="0.55"/>
<rect x="315.5" y="97.4" width="19.8" height="15.2" fill="#92b6dc" stroke="#6f95bf" stroke-width="0.5"/>
<line x1="315.5" y1="107.7" x2="335.3" y2="107.7" stroke="#5f86b0" stroke-width="0.7"/>
<text x="334.9" y="104.9" font-size="5.2" font-family="'DejaVu Sans', Verdana, sans-serif" text-anchor="end" fill="#222" stroke="#222" stroke-width="0.12">0.081</text>
<rect x="282.7" y="83.4" width="57.7" height="54.8" fill="none" stroke="#cfcfcf" stroke-width="0.6"/>
<text x="285" y="90.3" font-size="5.4" font-family="'DejaVu Sans', Verdana, sans-serif" text-anchor="start" fill="#222" stroke="#222" stroke-width="0.12">p = 9.5e-05</text>
<text x="298.85" y="145.4" font-size="6.3" font-family="'DejaVu Sans', Verdana, sans-serif" text-anchor="middle" fill="#222" stroke="#222" stroke-width="0.12" textLength="33.4" lengthAdjust="spacingAndGlyphs">Non-MARD</text>
<text x="327.5" y="145.4" font-size="6.3" font-family="'DejaVu Sans', Verdana, sans-serif" text-anchor="middle" fill="#222" stroke="#222" stroke-width="0.12" textLength="17.5" lengthAdjust="spacingAndGlyphs">MARD</text>
<text x="269.6" y="110.8" font-size="6.2" text-anchor="middle" stroke="#000" stroke-width="0.12" transform="rotate(-90 269.6 110.8)" dominant-baseline="central">MARD-MRS</text>
<rect x="371.2" y="11.2" width="55.4" height="53" fill="#fff"/>
<line x1="371.2" y1="15.38" x2="426.6" y2="15.38" stroke="#f4f4f4" stroke-width="0.6"/>
<line x1="371.2" y1="34.62" x2="426.6" y2="34.62" stroke="#f4f4f4" stroke-width="0.6"/>
<line x1="371.2" y1="53.88" x2="426.6" y2="53.88" stroke="#f4f4f4" stroke-width="0.6"/>
<line x1="371.2" y1="25" x2="426.6" y2="25" stroke="#ebebeb" stroke-width="0.7"/>
<line x1="371.2" y1="44.25" x2="426.6" y2="44.25" stroke="#ebebeb" stroke-width="0.7"/>
<line x1="371.2" y1="63.5" x2="426.6" y2="63.5" stroke="#ebebeb" stroke-width="0.7"/>
<line x1="386.5" y1="11.2" x2="386.5" y2="64.2" stroke="#ebebeb" stroke-width="0.7"/>
<line x1="412.2" y1="11.2" x2="412.2" y2="64.2" stroke="#ebebeb" stroke-width="0.7"/>
<line x1="369.6" y1="25" x2="371.2" y2="25" stroke="#999" stroke-width="0.5"/>
<text x="369.7" y="26.66" font-size="4.6" text-anchor="end" fill="#6e6e6e" stroke="#6e6e6e" stroke-width="0.12">0.0</text>
<line x1="369.6" y1="44.25" x2="371.2" y2="44.25" stroke="#999" stroke-width="0.5"/>
<text x="369.7" y="45.91" font-size="4.6" text-anchor="end" fill="#6e6e6e" stroke="#6e6e6e" stroke-width="0.12">-0.5</text>
<line x1="369.6" y1="63.5" x2="371.2" y2="63.5" stroke="#999" stroke-width="0.5"/>
<text x="369.7" y="65.16" font-size="4.6" text-anchor="end" fill="#6e6e6e" stroke="#6e6e6e" stroke-width="0.12">-1.0</text>
<line x1="386.5" y1="18" x2="386.5" y2="62.7" stroke="#b4b4b4" stroke-width="0.55"/>
<rect x="376.8" y="30.8" width="19.2" height="12.8" fill="#dde0e6" stroke="#adb2ba" stroke-width="0.5"/>
<rect x="377.1" y="31.1" width="18.6" height="5" fill="#e9ebef"/>
<line x1="376.8" y1="36.4" x2="396" y2="36.4" stroke="#8f959e" stroke-width="0.7"/>
<text x="386.4" y="34.8" font-size="4.75" text-anchor="middle" fill="#222" stroke="#222" stroke-width="0.12">− 0.313</text>
<line x1="412.2" y1="15" x2="412.2" y2="54.2" stroke="#b4b4b4" stroke-width="0.55"/>
<rect x="402.3" y="23.8" width="19.7" height="14.6" fill="#92b6dc" stroke="#6f95bf" stroke-width="0.5"/>
<rect x="402.6" y="24.1" width="19.1" height="4.9" fill="#a9c7e7"/>
<line x1="402.3" y1="29.3" x2="422" y2="29.3" stroke="#5f86b0" stroke-width="0.7"/>
<text x="412.15" y="28" font-size="4.75" text-anchor="middle" fill="#222" stroke="#222" stroke-width="0.12">− 0.155</text>
<rect x="371.2" y="11.2" width="55.4" height="53" fill="none" stroke="#cfcfcf" stroke-width="0.6"/>
<text x="395" y="15.9" font-size="4.5" text-anchor="middle" fill="#222" stroke="#222" stroke-width="0.12">p = 5.3e-04</text>
<text x="387.1" y="70.9" font-size="6.3" text-anchor="middle" fill="#222" stroke="#222" stroke-width="0.12" textLength="31.3" lengthAdjust="spacingAndGlyphs">Non-SIDD</text>
<text x="413.1" y="70.9" font-size="6.3" text-anchor="middle" fill="#222" stroke="#222" stroke-width="0.12" textLength="14.9" lengthAdjust="spacingAndGlyphs">SIDD</text>
<text x="360" y="35.4" font-size="6.4" text-anchor="middle" stroke="#000" stroke-width="0.12" transform="rotate(-90 360 35.4)" dominant-baseline="central">SIDD-MRS</text>
<rect x="448.1" y="11.2" width="56.9" height="53" fill="#fff"/>
<line x1="448.1" y1="26" x2="505" y2="26" stroke="#f4f4f4" stroke-width="0.6"/>
<line x1="448.1" y1="41.8" x2="505" y2="41.8" stroke="#f4f4f4" stroke-width="0.6"/>
<line x1="448.1" y1="57.6" x2="505" y2="57.6" stroke="#f4f4f4" stroke-width="0.6"/>
<line x1="448.1" y1="18.1" x2="505" y2="18.1" stroke="#ebebeb" stroke-width="0.7"/>
<line x1="448.1" y1="33.9" x2="505" y2="33.9" stroke="#ebebeb" stroke-width="0.7"/>
<line x1="448.1" y1="49.7" x2="505" y2="49.7" stroke="#ebebeb" stroke-width="0.7"/>
<line x1="463.3" y1="11.2" x2="463.3" y2="64.2" stroke="#ebebeb" stroke-width="0.7"/>
<line x1="489" y1="11.2" x2="489" y2="64.2" stroke="#ebebeb" stroke-width="0.7"/>
<line x1="446.5" y1="18.1" x2="448.1" y2="18.1" stroke="#999" stroke-width="0.5"/>
<text x="446.6" y="19.76" font-size="4.6" text-anchor="end" fill="#6e6e6e" stroke="#6e6e6e" stroke-width="0.12">0.1</text>
<line x1="446.5" y1="33.9" x2="448.1" y2="33.9" stroke="#999" stroke-width="0.5"/>
<text x="446.6" y="35.56" font-size="4.6" text-anchor="end" fill="#6e6e6e" stroke="#6e6e6e" stroke-width="0.12">0.0</text>
<line x1="446.5" y1="49.7" x2="448.1" y2="49.7" stroke="#999" stroke-width="0.5"/>
<text x="446.6" y="51.36" font-size="4.6" text-anchor="end" fill="#6e6e6e" stroke="#6e6e6e" stroke-width="0.12">-0.1</text>
<line x1="463.3" y1="13.5" x2="463.3" y2="62.7" stroke="#b4b4b4" stroke-width="0.55"/>
<rect x="453.5" y="35.3" width="19.7" height="12.8" fill="#dde0e6" stroke="#adb2ba" stroke-width="0.5"/>
<rect x="453.8" y="35.6" width="19.1" height="5.6" fill="#e9ebef"/>
<line x1="453.5" y1="41.5" x2="473.2" y2="41.5" stroke="#8f959e" stroke-width="0.7"/>
<text x="463.35" y="40" font-size="4.75" text-anchor="middle" fill="#222" stroke="#222" stroke-width="0.12">− 0.045</text>
<line x1="489" y1="21.9" x2="489" y2="48.1" stroke="#b4b4b4" stroke-width="0.55"/>
<rect x="479.3" y="33.2" width="19.5" height="9.5" fill="#92b6dc" stroke="#6f95bf" stroke-width="0.5"/>
<rect x="479.6" y="33.5" width="18.9" height="5.4" fill="#a9c7e7"/>
<line x1="479.3" y1="39.2" x2="498.8" y2="39.2" stroke="#5f86b0" stroke-width="0.7"/>
<text x="489.05" y="37.7" font-size="4.75" text-anchor="middle" fill="#222" stroke="#222" stroke-width="0.12">− 0.017</text>
<rect x="448.1" y="11.2" width="56.9" height="53" fill="none" stroke="#cfcfcf" stroke-width="0.6"/>
<text x="469.8" y="15.9" font-size="4.5" text-anchor="middle" fill="#222" stroke="#222" stroke-width="0.12">p = 0.01</text>
<text x="465.15" y="71.3" font-size="6.3" text-anchor="middle" fill="#222" stroke="#222" stroke-width="0.12" textLength="28.4" lengthAdjust="spacingAndGlyphs">Non-SIRD</text>
<text x="490.1" y="71.3" font-size="6.3" text-anchor="middle" fill="#222" stroke="#222" stroke-width="0.12" textLength="14.9" lengthAdjust="spacingAndGlyphs">SIRD</text>
<text x="438.1" y="35" font-size="6.4" text-anchor="middle" stroke="#000" stroke-width="0.12" transform="rotate(-90 438.1 35)" dominant-baseline="central">SIRD-MRS</text>
<rect x="369.2" y="83.1" width="58.2" height="56.2" fill="#fff"/>
<line x1="369.2" y1="95.15" x2="427.4" y2="95.15" stroke="#f4f4f4" stroke-width="0.6"/>
<line x1="369.2" y1="107.85" x2="427.4" y2="107.85" stroke="#f4f4f4" stroke-width="0.6"/>
<line x1="369.2" y1="120.55" x2="427.4" y2="120.55" stroke="#f4f4f4" stroke-width="0.6"/>
<line x1="369.2" y1="133.25" x2="427.4" y2="133.25" stroke="#f4f4f4" stroke-width="0.6"/>
<line x1="369.2" y1="88.8" x2="427.4" y2="88.8" stroke="#ebebeb" stroke-width="0.7"/>
<line x1="369.2" y1="101.5" x2="427.4" y2="101.5" stroke="#ebebeb" stroke-width="0.7"/>
<line x1="369.2" y1="114.2" x2="427.4" y2="114.2" stroke="#ebebeb" stroke-width="0.7"/>
<line x1="369.2" y1="126.9" x2="427.4" y2="126.9" stroke="#ebebeb" stroke-width="0.7"/>
<line x1="385.6" y1="83.1" x2="385.6" y2="139.3" stroke="#ebebeb" stroke-width="0.7"/>
<line x1="412.3" y1="83.1" x2="412.3" y2="139.3" stroke="#ebebeb" stroke-width="0.7"/>
<line x1="367.6" y1="88.8" x2="369.2" y2="88.8" stroke="#999" stroke-width="0.5"/>
<text x="367.7" y="90.46" font-size="4.6" text-anchor="end" fill="#6e6e6e" stroke="#6e6e6e" stroke-width="0.12">2</text>
<line x1="367.6" y1="101.5" x2="369.2" y2="101.5" stroke="#999" stroke-width="0.5"/>
<text x="367.7" y="103.16" font-size="4.6" text-anchor="end" fill="#6e6e6e" stroke="#6e6e6e" stroke-width="0.12">1</text>
<line x1="367.6" y1="114.2" x2="369.2" y2="114.2" stroke="#999" stroke-width="0.5"/>
<text x="367.7" y="115.86" font-size="4.6" text-anchor="end" fill="#6e6e6e" stroke="#6e6e6e" stroke-width="0.12">0</text>
<line x1="367.6" y1="126.9" x2="369.2" y2="126.9" stroke="#999" stroke-width="0.5"/>
<text x="367.7" y="128.56" font-size="4.6" text-anchor="end" fill="#6e6e6e" stroke="#6e6e6e" stroke-width="0.12">-1</text>
<line x1="385.6" y1="90.8" x2="385.6" y2="136.9" stroke="#b4b4b4" stroke-width="0.55"/>
<rect x="375.4" y="107.7" width="20.4" height="12.8" fill="#dde0e6" stroke="#adb2ba" stroke-width="0.5"/>
<rect x="375.7" y="108" width="19.8" height="4.8" fill="#e9ebef"/>
<line x1="375.4" y1="113.1" x2="395.8" y2="113.1" stroke="#8f959e" stroke-width="0.7"/>
<text x="385.6" y="112.3" font-size="4.75" text-anchor="middle" fill="#222" stroke="#222" stroke-width="0.12">0.003</text>
<line x1="412.3" y1="86.9" x2="412.3" y2="120.8" stroke="#b4b4b4" stroke-width="0.55"/>
<rect x="402" y="97.2" width="20.6" height="10.5" fill="#92b6dc" stroke="#6f95bf" stroke-width="0.5"/>
<rect x="402.3" y="97.5" width="20" height="2.7" fill="#a9c7e7"/>
<line x1="402" y1="100.5" x2="422.6" y2="100.5" stroke="#5f86b0" stroke-width="0.7"/>
<text x="412.3" y="100.3" font-size="4.75" text-anchor="middle" fill="#222" stroke="#222" stroke-width="0.12">0.967</text>
<rect x="369.2" y="83.1" width="58.2" height="56.2" fill="none" stroke="#cfcfcf" stroke-width="0.6"/>
<text x="394" y="89.1" font-size="4.5" text-anchor="middle" fill="#222" stroke="#222" stroke-width="0.12">p = 1.4e-12</text>
<text x="386.4" y="145.3" font-size="6.3" text-anchor="middle" fill="#222" stroke="#222" stroke-width="0.12" textLength="27.7" lengthAdjust="spacingAndGlyphs">Non-MOD</text>
<text x="412.7" y="145.3" font-size="6.3" text-anchor="middle" fill="#222" stroke="#222" stroke-width="0.12" textLength="14.1" lengthAdjust="spacingAndGlyphs">MOD</text>
<text x="361.9" y="110" font-size="6.4" text-anchor="middle" stroke="#000" stroke-width="0.12" transform="rotate(-90 361.9 110)" dominant-baseline="central">MOD-MRS</text>
<rect x="449.2" y="83.6" width="58" height="55.7" fill="#fff"/>
<line x1="449.2" y1="91.12" x2="507.2" y2="91.12" stroke="#f4f4f4" stroke-width="0.6"/>
<line x1="449.2" y1="102.88" x2="507.2" y2="102.88" stroke="#f4f4f4" stroke-width="0.6"/>
<line x1="449.2" y1="114.62" x2="507.2" y2="114.62" stroke="#f4f4f4" stroke-width="0.6"/>
<line x1="449.2" y1="126.38" x2="507.2" y2="126.38" stroke="#f4f4f4" stroke-width="0.6"/>
<line x1="449.2" y1="138.12" x2="507.2" y2="138.12" stroke="#f4f4f4" stroke-width="0.6"/>
<line x1="449.2" y1="85.25" x2="507.2" y2="85.25" stroke="#ebebeb" stroke-width="0.7"/>
<line x1="449.2" y1="97" x2="507.2" y2="97" stroke="#ebebeb" stroke-width="0.7"/>
<line x1="449.2" y1="108.75" x2="507.2" y2="108.75" stroke="#ebebeb" stroke-width="0.7"/>
<line x1="449.2" y1="120.5" x2="507.2" y2="120.5" stroke="#ebebeb" stroke-width="0.7"/>
<line x1="449.2" y1="132.25" x2="507.2" y2="132.25" stroke="#ebebeb" stroke-width="0.7"/>
<line x1="464.9" y1="83.6" x2="464.9" y2="139.3" stroke="#ebebeb" stroke-width="0.7"/>
<line x1="491.4" y1="83.6" x2="491.4" y2="139.3" stroke="#ebebeb" stroke-width="0.7"/>
<line x1="447.6" y1="85.25" x2="449.2" y2="85.25" stroke="#999" stroke-width="0.5"/>
<text x="447.7" y="86.91" font-size="4.6" text-anchor="end" fill="#6e6e6e" stroke="#6e6e6e" stroke-width="0.12">0.6</text>
<line x1="447.6" y1="97" x2="449.2" y2="97" stroke="#999" stroke-width="0.5"/>
<text x="447.7" y="98.66" font-size="4.6" text-anchor="end" fill="#6e6e6e" stroke="#6e6e6e" stroke-width="0.12">0.4</text>
<line x1="447.6" y1="108.75" x2="449.2" y2="108.75" stroke="#999" stroke-width="0.5"/>
<text x="447.7" y="110.41" font-size="4.6" text-anchor="end" fill="#6e6e6e" stroke="#6e6e6e" stroke-width="0.12">0.2</text>
<line x1="447.6" y1="120.5" x2="449.2" y2="120.5" stroke="#999" stroke-width="0.5"/>
<text x="447.7" y="122.16" font-size="4.6" text-anchor="end" fill="#6e6e6e" stroke="#6e6e6e" stroke-width="0.12">0.0</text>
<line x1="447.6" y1="132.25" x2="449.2" y2="132.25" stroke="#999" stroke-width="0.5"/>
<text x="447.7" y="133.91" font-size="4.6" text-anchor="end" fill="#6e6e6e" stroke="#6e6e6e" stroke-width="0.12">-0.2</text>
<line x1="464.9" y1="101.5" x2="464.9" y2="136.9" stroke="#b4b4b4" stroke-width="0.55"/>
<rect x="455" y="115.1" width="19.7" height="9.5" fill="#dde0e6" stroke="#adb2ba" stroke-width="0.5"/>
<rect x="455.3" y="115.4" width="19.1" height="3.5" fill="#e9ebef"/>
<line x1="455" y1="119.2" x2="474.7" y2="119.2" stroke="#8f959e" stroke-width="0.7"/>
<text x="464.85" y="119" font-size="4.75" text-anchor="middle" fill="#222" stroke="#222" stroke-width="0.12">0.018</text>
<line x1="491.4" y1="86.2" x2="491.4" y2="129.2" stroke="#b4b4b4" stroke-width="0.55"/>
<rect x="481.5" y="107.7" width="19.7" height="11.5" fill="#92b6dc" stroke="#6f95bf" stroke-width="0.5"/>
<rect x="481.8" y="108" width="19.1" height="5.9" fill="#a9c7e7"/>
<line x1="481.5" y1="114.2" x2="501.2" y2="114.2" stroke="#5f86b0" stroke-width="0.7"/>
<text x="491.35" y="112.6" font-size="4.75" text-anchor="middle" fill="#222" stroke="#222" stroke-width="0.12">0.129</text>
<rect x="449.2" y="83.6" width="58" height="55.7" fill="none" stroke="#cfcfcf" stroke-width="0.6"/>
<text x="474" y="89.1" font-size="4.5" text-anchor="middle" fill="#222" stroke="#222" stroke-width="0.12">p = 7.7e-07</text>
<text x="464.2" y="145.3" font-size="6.3" text-anchor="middle" fill="#222" stroke="#222" stroke-width="0.12" textLength="32.7" lengthAdjust="spacingAndGlyphs">Non-MARD</text>
<text x="492.25" y="145.3" font-size="6.3" text-anchor="middle" fill="#222" stroke="#222" stroke-width="0.12" textLength="18" lengthAdjust="spacingAndGlyphs">MARD</text>
<text x="439.1" y="108.9" font-size="6.4" text-anchor="middle" stroke="#000" stroke-width="0.12" transform="rotate(-90 439.1 108.9)" dominant-baseline="central">MARD-MRS</text>
<text x="42.6" y="178.6" font-size="7.2" font-weight="bold" stroke="#000" stroke-width="0.06">MRSs in ANDiU</text>
<text x="215" y="177.4" font-size="7" font-weight="bold" text-anchor="middle" stroke="#000" stroke-width="0.06">OR (95% CI)</text>
<text x="267" y="176.8" font-size="7" font-weight="bold" text-anchor="middle" stroke="#000" stroke-width="0.06">p</text>
<line x1="43" y1="184.6" x2="283" y2="184.6" stroke="#cdcdcd" stroke-width="1.2"/>
<line x1="104.4" y1="185.5" x2="104.4" y2="257.5" stroke="#e2e2e2" stroke-width="0.7"/>
<line x1="111.21" y1="185.5" x2="111.21" y2="257.5" stroke="#d0d0d0" stroke-width="0.45" stroke-dasharray="0.8 1.8"/>
<line x1="118.02" y1="185.5" x2="118.02" y2="257.5" stroke="#d0d0d0" stroke-width="0.45" stroke-dasharray="0.8 1.8"/>
<line x1="124.83" y1="185.5" x2="124.83" y2="257.5" stroke="#d0d0d0" stroke-width="0.45" stroke-dasharray="0.8 1.8"/>
<line x1="131.64" y1="185.5" x2="131.64" y2="257.5" stroke="#d0d0d0" stroke-width="0.45" stroke-dasharray="0.8 1.8"/>
<line x1="138.45" y1="185.5" x2="138.45" y2="257.5" stroke="#d0d0d0" stroke-width="0.45" stroke-dasharray="0.8 1.8"/>
<line x1="145.26" y1="185.5" x2="145.26" y2="257.5" stroke="#d0d0d0" stroke-width="0.45" stroke-dasharray="0.8 1.8"/>
<line x1="152.07" y1="185.5" x2="152.07" y2="257.5" stroke="#d0d0d0" stroke-width="0.45" stroke-dasharray="0.8 1.8"/>
<line x1="158.88" y1="185.5" x2="158.88" y2="257.5" stroke="#d0d0d0" stroke-width="0.45" stroke-dasharray="0.8 1.8"/>
<line x1="165.69" y1="185.5" x2="165.69" y2="257.5" stroke="#d0d0d0" stroke-width="0.45" stroke-dasharray="0.8 1.8"/>
<line x1="172.5" y1="185.5" x2="172.5" y2="257.5" stroke="#d0d0d0" stroke-width="0.45" stroke-dasharray="0.8 1.8"/>
<line x1="179.31" y1="185.5" x2="179.31" y2="257.5" stroke="#d0d0d0" stroke-width="0.45" stroke-dasharray="0.8 1.8"/>
<line x1="104.4" y1="257.5" x2="179.31" y2="257.5" stroke="#333" stroke-width="0.5"/>
<line x1="104.4" y1="257.5" x2="104.4" y2="259.5" stroke="#333" stroke-width="0.5"/>
<text x="104.4" y="267.2" font-size="4.8" text-anchor="middle" fill="#222" stroke="#222" stroke-width="0.12">1</text>
<line x1="111.21" y1="257.5" x2="111.21" y2="259.5" stroke="#333" stroke-width="0.5"/>
<text x="111.21" y="267.2" font-size="4.8" text-anchor="middle" fill="#222" stroke="#222" stroke-width="0.12">2</text>
<line x1="118.02" y1="257.5" x2="118.02" y2="259.5" stroke="#333" stroke-width="0.5"/>
<text x="118.02" y="267.2" font-size="4.8" text-anchor="middle" fill="#222" stroke="#222" stroke-width="0.12">3</text>
<line x1="124.83" y1="257.5" x2="124.83" y2="259.5" stroke="#333" stroke-width="0.5"/>
<text x="124.83" y="267.2" font-size="4.8" text-anchor="middle" fill="#222" stroke="#222" stroke-width="0.12">4</text>
<line x1="131.64" y1="257.5" x2="131.64" y2="259.5" stroke="#333" stroke-width="0.5"/>
<text x="131.64" y="267.2" font-size="4.8" text-anchor="middle" fill="#222" stroke="#222" stroke-width="0.12">5</text>
<line x1="138.45" y1="257.5" x2="138.45" y2="259.5" stroke="#333" stroke-width="0.5"/>
<text x="138.45" y="267.2" font-size="4.8" text-anchor="middle" fill="#222" stroke="#222" stroke-width="0.12">6</text>
<line x1="145.26" y1="257.5" x2="145.26" y2="259.5" stroke="#333" stroke-width="0.5"/>
<text x="145.26" y="267.2" font-size="4.8" text-anchor="middle" fill="#222" stroke="#222" stroke-width="0.12">7</text>
<line x1="152.07" y1="257.5" x2="152.07" y2="259.5" stroke="#333" stroke-width="0.5"/>
<text x="152.07" y="267.2" font-size="4.8" text-anchor="middle" fill="#222" stroke="#222" stroke-width="0.12">8</text>
<line x1="158.88" y1="257.5" x2="158.88" y2="259.5" stroke="#333" stroke-width="0.5"/>
<text x="158.88" y="267.2" font-size="4.8" text-anchor="middle" fill="#222" stroke="#222" stroke-width="0.12">9</text>
<line x1="165.69" y1="257.5" x2="165.69" y2="259.5" stroke="#333" stroke-width="0.5"/>
<text x="165.69" y="267.2" font-size="4.8" text-anchor="middle" fill="#222" stroke="#222" stroke-width="0.12">10</text>
<line x1="172.5" y1="257.5" x2="172.5" y2="259.5" stroke="#333" stroke-width="0.5"/>
<text x="172.5" y="267.2" font-size="4.8" text-anchor="middle" fill="#222" stroke="#222" stroke-width="0.12">11</text>
<line x1="179.31" y1="257.5" x2="179.31" y2="259.5" stroke="#333" stroke-width="0.5"/>
<text x="179.31" y="267.2" font-size="4.8" text-anchor="middle" fill="#222" stroke="#222" stroke-width="0.12">12</text>
<text x="144.5" y="273.7" font-size="6.2" font-weight="bold" text-anchor="middle" stroke="#000" stroke-width="0.06">Odds Ratio (95% CI)</text>
<text x="42.6" y="196.2" font-size="6.3" fill="#222" stroke="#222" stroke-width="0.12">SIDD – MRS</text>
<line x1="107.33" y1="194" x2="118.91" y2="194" stroke="#8dbfd3" stroke-width="0.7"/>
<line x1="107.33" y1="192.8" x2="107.33" y2="195.2" stroke="#8dbfd3" stroke-width="0.6"/>
<line x1="118.91" y1="192.8" x2="118.91" y2="195.2" stroke="#8dbfd3" stroke-width="0.6"/>
<rect x="109.65" y="191.9" width="4.2" height="4.2" fill="#8dbfd3"/>
<text x="215.3" y="196.2" font-size="6.6" text-anchor="middle" fill="#111" stroke="#111" stroke-width="0.12">2.08 (1.43 - 3.13)</text>
<text x="267" y="196.2" font-size="6.3" text-anchor="middle" fill="#111">2 x 10<tspan dy="-2.5" font-size="4.2">−4</tspan></text>
<text x="42.6" y="213.8" font-size="6.3" fill="#222" stroke="#222" stroke-width="0.12">SIRD – MRS</text>
<line x1="105.22" y1="211.6" x2="113.53" y2="211.6" stroke="#8ccf8c" stroke-width="0.7"/>
<line x1="105.22" y1="210.4" x2="105.22" y2="212.8" stroke="#8ccf8c" stroke-width="0.6"/>
<line x1="113.53" y1="210.4" x2="113.53" y2="212.8" stroke="#8ccf8c" stroke-width="0.6"/>
<rect x="106.45" y="209.5" width="4.2" height="4.2" fill="#8ccf8c"/>
<text x="215.3" y="213.8" font-size="6.6" text-anchor="middle" fill="#111" stroke="#111" stroke-width="0.12">1.61 (1.12 - 2.34)</text>
<text x="267" y="213.8" font-size="6.3" text-anchor="middle" fill="#111" stroke="#111" stroke-width="0.12">0.011</text>
<text x="42.6" y="231.6" font-size="6.3" fill="#222" stroke="#222" stroke-width="0.12">MOD – MRS</text>
<line x1="121.56" y1="229.4" x2="175.63" y2="229.4" stroke="#f99b78" stroke-width="0.7"/>
<line x1="121.56" y1="228.2" x2="121.56" y2="230.6" stroke="#f99b78" stroke-width="0.6"/>
<line x1="175.63" y1="228.2" x2="175.63" y2="230.6" stroke="#f99b78" stroke-width="0.6"/>
<rect x="136.76" y="227.3" width="4.2" height="4.2" fill="#f99b78"/>
<text x="215.3" y="231.6" font-size="6.6" text-anchor="middle" fill="#111" stroke="#111" stroke-width="0.12">6.06 (3.52 - 11.46)</text>
<text x="267" y="231.6" font-size="6.3" text-anchor="middle" fill="#111">1.85 x 10<tspan dy="-2.5" font-size="4.2">−9</tspan></text>
<text x="42.6" y="249.8" font-size="6.3" fill="#222" stroke="#222" stroke-width="0.12">MARD – MRS</text>
<line x1="109.71" y1="247.6" x2="122.79" y2="247.6" stroke="#cb8fd2" stroke-width="0.7"/>
<line x1="109.71" y1="246.4" x2="109.71" y2="248.8" stroke="#cb8fd2" stroke-width="0.6"/>
<line x1="122.79" y1="246.4" x2="122.79" y2="248.8" stroke="#cb8fd2" stroke-width="0.6"/>
<rect x="112.65" y="245.5" width="4.2" height="4.2" fill="#cb8fd2"/>
<text x="215.3" y="249.8" font-size="6.6" text-anchor="middle" fill="#111" stroke="#111" stroke-width="0.12">2.52 (1.78 - 3.70)</text>
<text x="267" y="249.8" font-size="6.3" text-anchor="middle" fill="#111">6.72 x 10<tspan dy="-2.5" font-size="4.2">−7</tspan></text>
<text x="264.8" y="293.2" font-size="7" font-weight="bold" text-anchor="middle" stroke="#000" stroke-width="0.06">p</text>
<rect x="49.2" y="297" width="9.9" height="63" fill="#a5a5a5"/>
<text x="54.15" y="328.5" font-size="6.6" font-weight="bold" text-anchor="middle" fill="#fff" transform="rotate(-90 54.15 328.5)" dominant-baseline="central">CVD</text>
<rect x="59.1" y="297" width="185.1" height="63" fill="#fff"/>
<line x1="77" y1="297" x2="77" y2="360" stroke="#ebebeb" stroke-width="0.7"/>
<line x1="117.2" y1="297" x2="117.2" y2="360" stroke="#ebebeb" stroke-width="0.7"/>
<line x1="157.4" y1="297" x2="157.4" y2="360" stroke="#ebebeb" stroke-width="0.7"/>
<line x1="197.6" y1="297" x2="197.6" y2="360" stroke="#ebebeb" stroke-width="0.7"/>
<line x1="237.8" y1="297" x2="237.8" y2="360" stroke="#ebebeb" stroke-width="0.7"/>
<line x1="59.1" y1="305.3" x2="244.2" y2="305.3" stroke="#ebebeb" stroke-width="0.7"/>
<line x1="59.1" y1="320.9" x2="244.2" y2="320.9" stroke="#ebebeb" stroke-width="0.7"/>
<line x1="59.1" y1="336.3" x2="244.2" y2="336.3" stroke="#ebebeb" stroke-width="0.7"/>
<line x1="59.1" y1="351.5" x2="244.2" y2="351.5" stroke="#ebebeb" stroke-width="0.7"/>
<line x1="117.2" y1="297" x2="117.2" y2="360" stroke="#444" stroke-width="0.6" stroke-dasharray="1.1 1.1"/>
<line x1="80.1" y1="305.3" x2="114.8" y2="305.3" stroke="#abcdd9" stroke-width="1"/>
<line x1="80.1" y1="301.5" x2="80.1" y2="309.1" stroke="#abcdd9" stroke-width="0.9"/>
<line x1="114.8" y1="301.5" x2="114.8" y2="309.1" stroke="#abcdd9" stroke-width="0.9"/>
<circle cx="94.7" cy="305.3" r="1.6" fill="#86b4c7"/>
<text x="47" y="307.9" font-size="6" text-anchor="end" fill="#4d4d4d" stroke="#4d4d4d" stroke-width="0.12">SIDD-MRS</text>
<line x1="129.4" y1="320.9" x2="189" y2="320.9" stroke="#b7dfb3" stroke-width="1"/>
<line x1="129.4" y1="317.1" x2="129.4" y2="324.7" stroke="#b7dfb3" stroke-width="0.9"/>
<line x1="189" y1="317.1" x2="189" y2="324.7" stroke="#b7dfb3" stroke-width="0.9"/>
<circle cx="155" cy="320.9" r="1.6" fill="#8ecb8d"/>
<text x="47" y="323.5" font-size="6" text-anchor="end" fill="#4d4d4d" stroke="#4d4d4d" stroke-width="0.12">SIRD-MRS</text>
<line x1="77.2" y1="336.3" x2="104.6" y2="336.3" stroke="#fcae92" stroke-width="1"/>
<line x1="77.2" y1="332.5" x2="77.2" y2="340.1" stroke="#fcae92" stroke-width="0.9"/>
<line x1="104.6" y1="332.5" x2="104.6" y2="340.1" stroke="#fcae92" stroke-width="0.9"/>
<circle cx="89.2" cy="336.3" r="1.6" fill="#fb9370"/>
<text x="47" y="338.9" font-size="6" text-anchor="end" fill="#4d4d4d" stroke="#4d4d4d" stroke-width="0.12">MOD-MRS</text>
<line x1="125" y1="351.5" x2="182.4" y2="351.5" stroke="#d9abe1" stroke-width="1"/>
<line x1="125" y1="347.7" x2="125" y2="355.3" stroke="#d9abe1" stroke-width="0.9"/>
<line x1="182.4" y1="347.7" x2="182.4" y2="355.3" stroke="#d9abe1" stroke-width="0.9"/>
<circle cx="150.2" cy="351.5" r="1.6" fill="#c48ccf"/>
<text x="47" y="354.1" font-size="6" text-anchor="end" fill="#4d4d4d" stroke="#4d4d4d" stroke-width="0.12">MARD-MRS</text>
<rect x="59.1" y="297" width="185.1" height="63" fill="none" stroke="#d4d4d4" stroke-width="0.6"/>
<rect x="250.7" y="297" width="34.2" height="63" fill="#efefef"/>
<text x="252.5" y="307.15" font-size="5.7" fill="#1a1a1a" stroke="#1a1a1a" stroke-width="0.12">p= 0.032</text>
<text x="252.5" y="321.55" font-size="5.7" fill="#1a1a1a" stroke="#1a1a1a" stroke-width="0.12">p= 0.002</text>
<text x="252.5" y="338.55" font-size="5.7" fill="#1a1a1a" stroke="#1a1a1a" stroke-width="0.12">p= 0.001</text>
<text x="252.5" y="354.15" font-size="5.7" fill="#1a1a1a" stroke="#1a1a1a" stroke-width="0.12">p= 0.007</text>
<rect x="49.2" y="363" width="9.9" height="63.5" fill="#a5a5a5"/>
<text x="54.15" y="394.75" font-size="6.6" font-weight="bold" text-anchor="middle" fill="#fff" transform="rotate(-90 54.15 394.75)" dominant-baseline="central">CKD</text>
<rect x="59.1" y="363" width="185.1" height="63.5" fill="#fff"/>
<line x1="77" y1="363" x2="77" y2="426.5" stroke="#ebebeb" stroke-width="0.7"/>
<line x1="117.2" y1="363" x2="117.2" y2="426.5" stroke="#ebebeb" stroke-width="0.7"/>
<line x1="157.4" y1="363" x2="157.4" y2="426.5" stroke="#ebebeb" stroke-width="0.7"/>
<line x1="197.6" y1="363" x2="197.6" y2="426.5" stroke="#ebebeb" stroke-width="0.7"/>
<line x1="237.8" y1="363" x2="237.8" y2="426.5" stroke="#ebebeb" stroke-width="0.7"/>
<line x1="59.1" y1="372" x2="244.2" y2="372" stroke="#ebebeb" stroke-width="0.7"/>
<line x1="59.1" y1="387" x2="244.2" y2="387" stroke="#ebebeb" stroke-width="0.7"/>
<line x1="59.1" y1="402.4" x2="244.2" y2="402.4" stroke="#ebebeb" stroke-width="0.7"/>
<line x1="59.1" y1="417.4" x2="244.2" y2="417.4" stroke="#ebebeb" stroke-width="0.7"/>
<line x1="117.2" y1="363" x2="117.2" y2="426.5" stroke="#444" stroke-width="0.6" stroke-dasharray="1.1 1.1"/>
<line x1="98.7" y1="372" x2="151.3" y2="372" stroke="#abcdd9" stroke-width="1"/>
<line x1="98.7" y1="368.2" x2="98.7" y2="375.8" stroke="#abcdd9" stroke-width="0.9"/>
<line x1="151.3" y1="368.2" x2="151.3" y2="375.8" stroke="#abcdd9" stroke-width="0.9"/>
<circle cx="120.7" cy="372" r="1.6" fill="#86b4c7"/>
<text x="47" y="374.6" font-size="6" text-anchor="end" fill="#4d4d4d" stroke="#4d4d4d" stroke-width="0.12">SIDD-MRS</text>
<line x1="126.9" y1="387" x2="209.1" y2="387" stroke="#b7dfb3" stroke-width="1"/>
<line x1="126.9" y1="383.2" x2="126.9" y2="390.8" stroke="#b7dfb3" stroke-width="0.9"/>
<line x1="209.1" y1="383.2" x2="209.1" y2="390.8" stroke="#b7dfb3" stroke-width="0.9"/>
<circle cx="161.6" cy="387" r="1.6" fill="#8ecb8d"/>
<text x="47" y="389.6" font-size="6" text-anchor="end" fill="#4d4d4d" stroke="#4d4d4d" stroke-width="0.12">SIRD-MRS</text>
<line x1="67.3" y1="402.4" x2="89.2" y2="402.4" stroke="#fcae92" stroke-width="1"/>
<line x1="67.3" y1="398.6" x2="67.3" y2="406.2" stroke="#fcae92" stroke-width="0.9"/>
<line x1="89.2" y1="398.6" x2="89.2" y2="406.2" stroke="#fcae92" stroke-width="0.9"/>
<circle cx="77.2" cy="402.4" r="1.6" fill="#fb9370"/>
<text x="47" y="405" font-size="6" text-anchor="end" fill="#4d4d4d" stroke="#4d4d4d" stroke-width="0.12">MOD-MRS</text>
<line x1="154.6" y1="417.4" x2="236.8" y2="417.4" stroke="#d9abe1" stroke-width="1"/>
<line x1="154.6" y1="413.6" x2="154.6" y2="421.2" stroke="#d9abe1" stroke-width="0.9"/>
<line x1="236.8" y1="413.6" x2="236.8" y2="421.2" stroke="#d9abe1" stroke-width="0.9"/>
<circle cx="189.7" cy="417.4" r="1.6" fill="#c48ccf"/>
<text x="47" y="420" font-size="6" text-anchor="end" fill="#4d4d4d" stroke="#4d4d4d" stroke-width="0.12">MARD-MRS</text>
<rect x="59.1" y="363" width="185.1" height="63.5" fill="none" stroke="#d4d4d4" stroke-width="0.6"/>
<rect x="250.7" y="363" width="34.2" height="63.5" fill="#efefef"/>
<text x="252.5" y="374.95" font-size="5.7" fill="#1a1a1a" stroke="#1a1a1a" stroke-width="0.12">p= 0.778</text>
<text x="252.5" y="389.65" font-size="5.7" fill="#1a1a1a" stroke="#1a1a1a" stroke-width="0.12">p= 0.007</text>
<text x="252.5" y="404.75" font-size="5.7" fill="#1a1a1a" stroke="#1a1a1a" stroke-width="0.12">p= 3.11e-07</text>
<text x="252.5" y="420.05" font-size="5.7" fill="#1a1a1a" stroke="#1a1a1a" stroke-width="0.12">p= 1.72e-06</text>
<rect x="49.2" y="429" width="9.9" height="63.2" fill="#a5a5a5"/>
<text x="54.15" y="460.6" font-size="6.6" font-weight="bold" text-anchor="middle" fill="#fff" transform="rotate(-90 54.15 460.6)" dominant-baseline="central">Retinopathy</text>
<rect x="59.1" y="429" width="185.1" height="63.2" fill="#fff"/>
<line x1="77" y1="429" x2="77" y2="492.2" stroke="#ebebeb" stroke-width="0.7"/>
<line x1="117.2" y1="429" x2="117.2" y2="492.2" stroke="#ebebeb" stroke-width="0.7"/>
<line x1="157.4" y1="429" x2="157.4" y2="492.2" stroke="#ebebeb" stroke-width="0.7"/>
<line x1="197.6" y1="429" x2="197.6" y2="492.2" stroke="#ebebeb" stroke-width="0.7"/>
<line x1="237.8" y1="429" x2="237.8" y2="492.2" stroke="#ebebeb" stroke-width="0.7"/>
<line x1="59.1" y1="438" x2="244.2" y2="438" stroke="#ebebeb" stroke-width="0.7"/>
<line x1="59.1" y1="453" x2="244.2" y2="453" stroke="#ebebeb" stroke-width="0.7"/>
<line x1="59.1" y1="468.4" x2="244.2" y2="468.4" stroke="#ebebeb" stroke-width="0.7"/>
<line x1="59.1" y1="483.4" x2="244.2" y2="483.4" stroke="#ebebeb" stroke-width="0.7"/>
<line x1="117.2" y1="429" x2="117.2" y2="492.2" stroke="#444" stroke-width="0.6" stroke-dasharray="1.1 1.1"/>
<line x1="92.5" y1="438" x2="183.5" y2="438" stroke="#abcdd9" stroke-width="1"/>
<line x1="92.5" y1="434.2" x2="92.5" y2="441.8" stroke="#abcdd9" stroke-width="0.9"/>
<line x1="183.5" y1="434.2" x2="183.5" y2="441.8" stroke="#abcdd9" stroke-width="0.9"/>
<circle cx="126.9" cy="438" r="1.6" fill="#86b4c7"/>
<text x="47" y="440.6" font-size="6" text-anchor="end" fill="#4d4d4d" stroke="#4d4d4d" stroke-width="0.12">SIDD-MRS</text>
<line x1="90" y1="453" x2="168.9" y2="453" stroke="#b7dfb3" stroke-width="1"/>
<line x1="90" y1="449.2" x2="90" y2="456.8" stroke="#b7dfb3" stroke-width="0.9"/>
<line x1="168.9" y1="449.2" x2="168.9" y2="456.8" stroke="#b7dfb3" stroke-width="0.9"/>
<circle cx="120.7" cy="453" r="1.6" fill="#8ecb8d"/>
<text x="47" y="455.6" font-size="6" text-anchor="end" fill="#4d4d4d" stroke="#4d4d4d" stroke-width="0.12">SIRD-MRS</text>
<line x1="84.8" y1="468.4" x2="135.3" y2="468.4" stroke="#fcae92" stroke-width="1"/>
<line x1="84.8" y1="464.6" x2="84.8" y2="472.2" stroke="#fcae92" stroke-width="0.9"/>
<line x1="135.3" y1="464.6" x2="135.3" y2="472.2" stroke="#fcae92" stroke-width="0.9"/>
<circle cx="105.3" cy="468.4" r="1.6" fill="#fb9370"/>
<text x="47" y="471" font-size="6" text-anchor="end" fill="#4d4d4d" stroke="#4d4d4d" stroke-width="0.12">MOD-MRS</text>
<line x1="92.5" y1="483.4" x2="159.4" y2="483.4" stroke="#d9abe1" stroke-width="1"/>
<line x1="92.5" y1="479.6" x2="92.5" y2="487.2" stroke="#d9abe1" stroke-width="0.9"/>
<line x1="159.4" y1="479.6" x2="159.4" y2="487.2" stroke="#d9abe1" stroke-width="0.9"/>
<circle cx="119.6" cy="483.4" r="1.6" fill="#c48ccf"/>
<text x="47" y="486" font-size="6" text-anchor="end" fill="#4d4d4d" stroke="#4d4d4d" stroke-width="0.12">MARD-MRS</text>
<rect x="59.1" y="429" width="185.1" height="63.2" fill="none" stroke="#d4d4d4" stroke-width="0.6"/>
<rect x="250.7" y="429" width="34.2" height="63.2" fill="#efefef"/>
<text x="252.5" y="440.25" font-size="5.7" fill="#1a1a1a" stroke="#1a1a1a" stroke-width="0.12">p= 0.657</text>
<text x="252.5" y="455.25" font-size="5.7" fill="#1a1a1a" stroke="#1a1a1a" stroke-width="0.12">p= 0.876</text>
<text x="252.5" y="471.95" font-size="5.7" fill="#1a1a1a" stroke="#1a1a1a" stroke-width="0.12">p= 0.389</text>
<text x="252.5" y="485.75" font-size="5.7" fill="#1a1a1a" stroke="#1a1a1a" stroke-width="0.12">p= 0.892</text>
<line x1="77" y1="492.2" x2="77" y2="493.8" stroke="#888" stroke-width="0.5"/>
<text x="77" y="499.3" font-size="5.6" text-anchor="middle" fill="#4d4d4d" stroke="#4d4d4d" stroke-width="0.12">0.5</text>
<line x1="117.2" y1="492.2" x2="117.2" y2="493.8" stroke="#888" stroke-width="0.5"/>
<text x="117.2" y="499.3" font-size="5.6" text-anchor="middle" fill="#4d4d4d" stroke="#4d4d4d" stroke-width="0.12">1.0</text>
<line x1="157.4" y1="492.2" x2="157.4" y2="493.8" stroke="#888" stroke-width="0.5"/>
<text x="157.4" y="499.3" font-size="5.6" text-anchor="middle" fill="#4d4d4d" stroke="#4d4d4d" stroke-width="0.12">1.5</text>
<line x1="197.6" y1="492.2" x2="197.6" y2="493.8" stroke="#888" stroke-width="0.5"/>
<text x="197.6" y="499.3" font-size="5.6" text-anchor="middle" fill="#4d4d4d" stroke="#4d4d4d" stroke-width="0.12">2.0</text>
<line x1="237.8" y1="492.2" x2="237.8" y2="493.8" stroke="#888" stroke-width="0.5"/>
<text x="237.8" y="499.3" font-size="5.6" text-anchor="middle" fill="#4d4d4d" stroke="#4d4d4d" stroke-width="0.12">2.5</text>
<text x="151.6" y="506.8" font-size="6.7" text-anchor="middle" fill="#111" stroke="#111" stroke-width="0.12">Hazard Ratio (95% Confidence Interval)</text>
<path d="M410.5 195.5A57.8 57.8 0 0 1 466.93 240.79L438.81 247.02A29 29 0 0 0 410.5 224.3Z" fill="#4a7090" stroke="#fff" stroke-width="0.7"/>
<path d="M466.93 240.79A57.8 57.8 0 0 1 456.36 288.49L433.51 270.95A29 29 0 0 0 438.81 247.02Z" fill="#8ab3cd" stroke="#fff" stroke-width="0.7"/>
<path d="M456.36 288.49A57.8 57.8 0 0 1 434.93 305.68L422.76 279.58A29 29 0 0 0 433.51 270.95Z" fill="#acdcec" stroke="#fff" stroke-width="0.7"/>
<path d="M434.93 305.68A57.8 57.8 0 0 1 375.72 299.46L393.05 276.46A29 29 0 0 0 422.76 279.58Z" fill="#c2f7c2" stroke="#fff" stroke-width="0.7"/>
<path d="M375.72 299.46A57.8 57.8 0 0 1 352.78 256.33L381.54 254.82A29 29 0 0 0 393.05 276.46Z" fill="#98cb98" stroke="#fff" stroke-width="0.7"/>
<path d="M352.78 256.33A57.8 57.8 0 0 1 360.44 224.4L385.39 238.8A29 29 0 0 0 381.54 254.82Z" fill="#2b5a1a" stroke="#fff" stroke-width="0.7"/>
<path d="M360.44 224.4A57.8 57.8 0 0 1 410.5 195.5L410.5 224.3A29 29 0 0 0 385.39 238.8Z" fill="#c8c8c8" stroke="#fff" stroke-width="0.7"/>
<text x="410.6" y="242.7" font-size="4.55" font-weight="bold" text-anchor="middle">Genes with annotated</text>
<text x="410.6" y="248.45" font-size="4.55" font-weight="bold" text-anchor="middle">sites included in</text>
<text x="410.6" y="254.2" font-size="4.55" font-weight="bold" text-anchor="middle">subgroup-unique MRSs</text>
<text x="410.6" y="259.95" font-size="4.55" font-weight="bold" text-anchor="middle">associate with</text>
<text x="410.6" y="265.7" font-size="4.55" font-weight="bold" text-anchor="middle">subgroup-traits,</text>
<text x="410.6" y="271.45" font-size="4.55" font-weight="bold" text-anchor="middle">diabetes or NAFLD</text>
<text x="411.4" y="172.4" font-size="5.9" font-weight="bold" stroke="#000" stroke-width="0.06">Diabetes</text>
<polyline points="410.4,196 410.4,174 509.6,174" fill="none" stroke="#9bb8cf" stroke-width="0.7"/>
<text x="412.8" y="180.1" font-size="3.65" font-style="italic" fill="#222">A2BP1, CASK39, CHST11, CTDSPL, ELOVL2, ENOX1, GRK5,</text>
<text x="412.8" y="184.65" font-size="3.65" font-style="italic" fill="#222">GSN, IFIH1, LMNB2, MOGAT1, NBPF20, PDGFC, PGAM2,</text>
<text x="412.8" y="189.2" font-size="3.65" font-style="italic" fill="#222">PIP5K1C, PXN, RAB27B, RBL2, RREB1, SCN8A, SLC2A13,</text>
<text x="412.8" y="193.75" font-size="3.65" font-style="italic" fill="#222">SLC6A4, SMARCA4, SOD3, TFEB, TXNIP</text>
<text x="471" y="232.8" font-size="5.9" font-weight="bold" stroke="#000" stroke-width="0.06">Insulin secretion/</text>
<text x="470.6" y="238.4" font-size="5.9" font-weight="bold" stroke="#000" stroke-width="0.06">β-cell function</text>
<polyline points="466.2,240.2 520,240.2" fill="none" stroke="#8ab3cd" stroke-width="0.7"/>
<text x="471.5" y="245.5" font-size="3.65" font-style="italic" fill="#222">AATK, CPLX1, CTDSPL,</text>
<text x="471.5" y="250.12" font-size="3.65" font-style="italic" fill="#222">ELOVL2, GRK5, IFIH1,</text>
<text x="471.5" y="254.74" font-size="3.65" font-style="italic" fill="#222">LMNB2, PXN, RREB1,</text>
<text x="471.5" y="259.36" font-size="3.65" font-style="italic" fill="#222">SLC6A4, SMARCA4,</text>
<text x="471.5" y="263.98" font-size="3.65" font-style="italic" fill="#222">SOD3, SYT2, TFEB,</text>
<text x="471.5" y="268.6" font-size="3.65" font-style="italic" fill="#222">TXNIP</text>
<text x="461.2" y="290.2" font-size="5.9" font-weight="bold" stroke="#000" stroke-width="0.06">Insulin resistance</text>
<polyline points="455.8,288.3 460.5,291.4 511,291.4" fill="none" stroke="#acdcec" stroke-width="0.7"/>
<text x="460.5" y="297.4" font-size="3.65" font-style="italic" fill="#222">AATK, GRK5, GSN, MOGAT1,</text>
<text x="460.5" y="301.8" font-size="3.65" font-style="italic" fill="#222">PDGFC, SLC6A4, SOD3, TFEB,</text>
<text x="460.5" y="306.2" font-size="3.65" font-style="italic" fill="#222">TXNIP</text>
<text x="316.7" y="215" font-size="5.9" font-weight="bold" stroke="#000" stroke-width="0.06">NAFLD</text>
<polyline points="316,216.9 356.7,216.9 360.2,226" fill="none" stroke="#6f9a5f" stroke-width="0.7"/>
<text x="316.7" y="221.4" font-size="3.65" font-style="italic" fill="#222">CASK39, MAST3,</text>
<text x="316.7" y="226.1" font-size="3.65" font-style="italic" fill="#222">MOGAT1, SOD3, TXNIP,</text>
<text x="316.7" y="230.8" font-size="3.65" font-style="italic" fill="#222">ELOVL2, IFIH1,</text>
<text x="316.7" y="235.5" font-size="3.65" font-style="italic" fill="#222">NEURL1B, PDGFC</text>
<text x="316.7" y="240.2" font-size="3.65" font-style="italic" fill="#222">SLC6A4, TFEB</text>
<text x="314.8" y="255.6" font-size="5.9" font-weight="bold" stroke="#000" stroke-width="0.06">Age</text>
<polyline points="314,257.2 353.5,257.2" fill="none" stroke="#b6dcb6" stroke-width="0.7"/>
<text x="314.8" y="263" font-size="3.65" font-style="italic" fill="#222">CPLX1, CRMP1,</text>
<text x="314.8" y="267.6" font-size="3.65" font-style="italic" fill="#222">ELOVL2, GRK5, IFIH1,</text>
<text x="314.8" y="272.2" font-size="3.65" font-style="italic" fill="#222">NAV3, NDUFA4L2, PXN,</text>
<text x="314.8" y="276.8" font-size="3.65" font-style="italic" fill="#222">RBL2, RNF170,</text>
<text x="314.8" y="281.4" font-size="3.65" font-style="italic" fill="#222">SMARCA4, SOD3, STK3,</text>
<text x="314.8" y="286" font-size="3.65" font-style="italic" fill="#222">TFEB, TRIM59, TXNIP</text>
<text x="314.9" y="302.1" font-size="5.9" font-weight="bold" stroke="#000" stroke-width="0.06">Obesity</text>
<polyline points="314,303.3 372.3,303.3 375.6,299.2" fill="none" stroke="#c2f0c2" stroke-width="0.7"/>
<text x="314.9" y="308.9" font-size="3.65" font-style="italic" fill="#222">A2BP1, BRE, CASK39, ELOVL2, ENOX1,</text>
<text x="314.9" y="313.65" font-size="3.65" font-style="italic" fill="#222">GRK5, GSN, MAST3, MIR2641, MOGAT1,</text>
<text x="314.9" y="318.4" font-size="3.65" font-style="italic" fill="#222">PDGFC, RAB27B, RBL2, RREB1, SCN8A,</text>
<text x="314.9" y="323.15" font-size="3.65" font-style="italic" fill="#222">SLC6A4, SOD3, STK3, TFEB, TXNIP</text>
<path d="M422.2 379A62 62 0 0 1 477.93 468.18L449.88 454.5A30.8 30.8 0 0 0 422.2 410.2Z" fill="#96bccc" stroke="#fff" stroke-width="0.7"/>
<path d="M477.93 468.18A62 62 0 0 1 382.76 488.84L402.61 464.77A30.8 30.8 0 0 0 449.88 454.5Z" fill="#dde8ee" stroke="#fff" stroke-width="0.7"/>
<path d="M382.76 488.84A62 62 0 0 1 375.41 481.68L398.95 461.21A30.8 30.8 0 0 0 402.61 464.77Z" fill="#93c993" stroke="#fff" stroke-width="0.7"/>
<path d="M375.41 481.68A62 62 0 0 1 362.31 424.95L392.45 433.03A30.8 30.8 0 0 0 398.95 461.21Z" fill="#fc9a74" stroke="#fff" stroke-width="0.7"/>
<path d="M362.31 424.95A62 62 0 0 1 396.49 384.58L409.43 412.97A30.8 30.8 0 0 0 392.45 433.03Z" fill="#fde0d4" stroke="#fff" stroke-width="0.7"/>
<path d="M396.49 384.58A62 62 0 0 1 406.15 381.11L414.23 411.25A30.8 30.8 0 0 0 409.43 412.97Z" fill="#c890cb" stroke="#fff" stroke-width="0.7"/>
<path d="M406.15 381.11A62 62 0 0 1 422.2 379L422.2 410.2A30.8 30.8 0 0 0 414.23 411.25Z" fill="#eddbf0" stroke="#fff" stroke-width="0.7"/>
<text x="422.2" y="424.4" font-size="4.65" font-weight="bold" text-anchor="middle">Genes with annotated</text>
<text x="422.2" y="430.3" font-size="4.65" font-weight="bold" text-anchor="middle">sites included in</text>
<text x="422.2" y="436.2" font-size="4.65" font-weight="bold" text-anchor="middle">subgroup-unique MRSs</text>
<text x="422.2" y="442.1" font-size="4.65" font-weight="bold" text-anchor="middle">associate with</text>
<text x="422.2" y="448" font-size="4.65" font-weight="bold" text-anchor="middle">subgroup-traits</text>
<text x="422.2" y="453.9" font-size="4.65" font-weight="bold" text-anchor="middle">when looking at each</text>
<text x="422.2" y="459.8" font-size="4.65" font-weight="bold" text-anchor="middle">subgroup-unique MRS</text>
<text x="422.7" y="353.4" font-size="5.9" font-weight="bold" stroke="#000" stroke-width="0.06">SIDD-MRS sites</text>
<polyline points="422.3,379 422.3,355 508.3,355" fill="none" stroke="#a9cbd8" stroke-width="0.7"/>
<text x="425.9" y="360.6" font-size="3.65" font-style="italic" fill="#222">A2BP1, AATK, BRE, CASK39, CPLX1, CTDSPL,</text>
<text x="425.9" y="365.57" font-size="3.65" font-style="italic" fill="#222">ENOX1, GRK5, GSN, LMNB2, MAST3, MIR2641,</text>
<text x="425.9" y="370.54" font-size="3.65" font-style="italic" fill="#222">MOGAT1, NBPF20, NDUFA4L2, PGAM2, PIP5K1C,</text>
<text x="425.9" y="375.51" font-size="3.65" font-style="italic" fill="#222">RREB1, SMARCA4, SOD3, STK3, SYT2, TXNIP</text>
<text x="348.5" y="353.6" font-size="5.9" font-weight="bold" stroke="#000" stroke-width="0.06">MARD-MRS sites</text>
<polyline points="348.5,355.2 397,355.2 406.6,379.8" fill="none" stroke="#d9a3df" stroke-width="0.7"/>
<text x="395.4" y="361.4" font-size="3.65" text-anchor="end" font-style="italic" fill="#222">CRMP1, RNF170</text>
<text x="316.6" y="420.9" font-size="5.9" font-weight="bold" stroke="#000" stroke-width="0.06">MOD-MRS sites</text>
<polyline points="316.6,422.2 361.5,422.2 363.4,425.3" fill="none" stroke="#fa9a74" stroke-width="0.7"/>
<text x="326.2" y="428.1" font-size="3.65" font-style="italic" fill="#222">CHST11, ELOVL2,</text>
<text x="326.2" y="433.05" font-size="3.65" font-style="italic" fill="#222">IFIH1/MDA5, NAV2,</text>
<text x="326.2" y="438" font-size="3.65" font-style="italic" fill="#222">PDGFC, PXN,</text>
<text x="326.2" y="442.95" font-size="3.65" font-style="italic" fill="#222">SCN8A, SLC2A13,</text>
<text x="326.2" y="447.9" font-size="3.65" font-style="italic" fill="#222">SLC6A4, TFEB,</text>
<text x="326.2" y="452.85" font-size="3.65" font-style="italic" fill="#222">TRIM59, NEURL1B</text>
<text x="324.6" y="480.5" font-size="5.9" font-weight="bold" stroke="#000" stroke-width="0.06">SIRD-MRS sites</text>
<polyline points="324.6,481.6 376.5,481.6" fill="none" stroke="#a3d3a3" stroke-width="0.7"/>
<text x="328.5" y="487.5" font-size="3.65" font-style="italic" fill="#222">RAB27B, RBL2</text>
</svg></body></html>
